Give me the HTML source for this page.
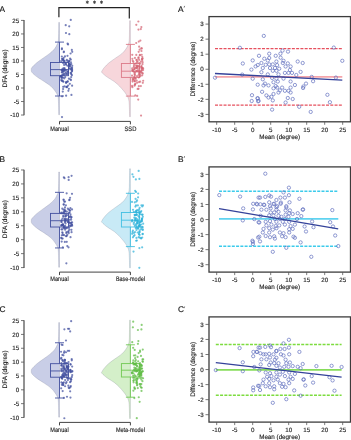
<!DOCTYPE html><html><head><meta charset="utf-8"><style>html,body{margin:0;padding:0;background:#fff;width:351px;height:440px;overflow:hidden}svg{display:block;will-change:transform}text{font-family:"Liberation Sans", sans-serif;fill:#1e1e1e;stroke:#1e1e1e;stroke-width:0.14px;text-rendering:geometricPrecision}</style></head><body>
<svg width="351" height="440" viewBox="0 0 351 440">
<text x="-0.4" y="11.80" font-size="8.3" style="fill:#111;stroke:#111;stroke-width:0.15px">A</text>
<text x="178.0" y="11.80" font-size="8.3" style="fill:#111;stroke:#111;stroke-width:0.15px">A</text>
<path d="M184.6,5.90 L184.1,7.60" stroke="#666" stroke-width="0.9"/>
<line x1="24" y1="20.12" x2="24" y2="115.33" stroke="#777" stroke-width="1.6"/>
<line x1="21" y1="115.03" x2="24" y2="115.03" stroke="#555" stroke-width="0.8"/>
<text x="19.2" y="117.23" font-size="6.2" text-anchor="end">-10</text>
<line x1="21" y1="101.52" x2="24" y2="101.52" stroke="#555" stroke-width="0.8"/>
<text x="19.2" y="103.72" font-size="6.2" text-anchor="end">-5</text>
<line x1="21" y1="88.00" x2="24" y2="88.00" stroke="#555" stroke-width="0.8"/>
<text x="19.2" y="90.20" font-size="6.2" text-anchor="end">0</text>
<line x1="21" y1="74.48" x2="24" y2="74.48" stroke="#555" stroke-width="0.8"/>
<text x="19.2" y="76.69" font-size="6.2" text-anchor="end">5</text>
<line x1="21" y1="60.97" x2="24" y2="60.97" stroke="#555" stroke-width="0.8"/>
<text x="19.2" y="63.17" font-size="6.2" text-anchor="end">10</text>
<line x1="21" y1="47.46" x2="24" y2="47.46" stroke="#555" stroke-width="0.8"/>
<text x="19.2" y="49.66" font-size="6.2" text-anchor="end">15</text>
<line x1="21" y1="33.94" x2="24" y2="33.94" stroke="#555" stroke-width="0.8"/>
<text x="19.2" y="36.14" font-size="6.2" text-anchor="end">20</text>
<line x1="21" y1="20.42" x2="24" y2="20.42" stroke="#555" stroke-width="0.8"/>
<text x="19.2" y="22.62" font-size="6.2" text-anchor="end">25</text>
<text transform="translate(7.3,68.40) rotate(-90)" font-size="6.5" text-anchor="middle" textLength="38.2" lengthAdjust="spacingAndGlyphs">DFA (degree)</text>
<path d="M59.5,124.40 V121.40 H130.4 V124.40" stroke="#444" stroke-width="1" fill="none"/>
<text x="59.5" y="130.70" font-size="6.5" text-anchor="middle" textLength="18.4" lengthAdjust="spacingAndGlyphs">Manual</text>
<text x="130.4" y="130.70" font-size="6.5" text-anchor="middle" textLength="12.0" lengthAdjust="spacingAndGlyphs">SSD</text>
<path d="M59.50,22.40 L58.70,22.40 C58.65,25.33 58.68,36.30 58.40,40.00 C58.12,43.70 57.67,43.08 57.00,44.60 C56.33,46.12 55.67,47.58 54.40,49.10 C53.13,50.62 51.30,52.18 49.40,53.70 C47.50,55.22 45.12,56.68 43.00,58.20 C40.88,59.72 38.52,61.28 36.70,62.80 C34.88,64.32 33.00,66.18 32.10,67.30 C31.20,68.42 31.30,68.62 31.30,69.50 C31.30,70.38 31.10,71.33 32.10,72.60 C33.10,73.87 35.23,75.58 37.30,77.10 C39.37,78.62 42.23,80.18 44.50,81.70 C46.77,83.22 49.17,84.68 50.90,86.20 C52.63,87.72 53.78,89.28 54.90,90.80 C56.02,92.32 57.02,93.77 57.60,95.30 C58.18,96.83 58.22,96.77 58.40,100.00 C58.58,103.23 58.65,112.25 58.70,114.70 L59.50,114.70 Z" fill="#c9cee7" stroke="#767a90" stroke-opacity="0.55" stroke-width="0.45"/>
<path d="M130.40,20.70 L129.60,20.70 C129.55,23.80 129.53,35.32 129.30,39.30 C129.07,43.28 128.77,42.97 128.20,44.60 C127.63,46.23 126.97,47.58 125.90,49.10 C124.83,50.62 123.55,52.18 121.80,53.70 C120.05,55.22 117.53,56.68 115.40,58.20 C113.27,59.72 110.82,61.28 109.00,62.80 C107.18,64.32 105.70,65.88 104.50,67.30 C103.30,68.72 102.20,70.38 101.80,71.30 C101.40,72.22 101.20,71.83 102.10,72.80 C103.00,73.77 105.13,75.62 107.20,77.10 C109.27,78.58 112.45,80.18 114.50,81.70 C116.55,83.22 117.98,84.68 119.50,86.20 C121.02,87.72 122.38,89.28 123.60,90.80 C124.82,92.32 125.90,93.55 126.80,95.30 C127.70,97.05 128.53,97.73 129.00,101.30 C129.47,104.87 129.50,114.13 129.60,116.70 L130.40,116.70 Z" fill="#f7d6db" stroke="#767a90" stroke-opacity="0.55" stroke-width="0.45"/>
<g stroke="#43509f" stroke-width="0.9" fill="none">
<rect x="50.50" y="62.50" width="18.00" height="13.20"/>
<line x1="50.50" y1="69.60" x2="68.50" y2="69.60"/>
<line x1="59.50" y1="42.10" x2="59.50" y2="62.50"/>
<line x1="59.50" y1="75.70" x2="59.50" y2="96.00"/>
<line x1="55.00" y1="42.10" x2="64.00" y2="42.10"/>
<line x1="55.00" y1="96.00" x2="64.00" y2="96.00"/>
</g>
<g stroke="#dc7a88" stroke-width="0.9" fill="none">
<rect x="121.40" y="63.50" width="18.00" height="13.90"/>
<line x1="121.40" y1="71.20" x2="139.40" y2="71.20"/>
<line x1="130.40" y1="44.40" x2="130.40" y2="63.50"/>
<line x1="130.40" y1="77.40" x2="130.40" y2="96.10"/>
<line x1="125.90" y1="44.40" x2="134.90" y2="44.40"/>
<line x1="125.90" y1="96.10" x2="134.90" y2="96.10"/>
</g>
<circle cx="66.11" cy="95.68" r="1.1" fill="#42509f" fill-opacity="0.72"/>
<circle cx="138.23" cy="99.54" r="1.1" fill="#d46473" fill-opacity="0.72"/>
<circle cx="71.44" cy="94.92" r="1.1" fill="#42509f" fill-opacity="0.72"/>
<circle cx="137.16" cy="95.95" r="1.1" fill="#d46473" fill-opacity="0.72"/>
<circle cx="66.74" cy="87.21" r="1.1" fill="#42509f" fill-opacity="0.72"/>
<circle cx="138.54" cy="88.79" r="1.1" fill="#d46473" fill-opacity="0.72"/>
<circle cx="63.09" cy="89.01" r="1.1" fill="#42509f" fill-opacity="0.72"/>
<circle cx="137.68" cy="88.94" r="1.1" fill="#d46473" fill-opacity="0.72"/>
<circle cx="68.12" cy="85.57" r="1.1" fill="#42509f" fill-opacity="0.72"/>
<circle cx="140.86" cy="86.08" r="1.1" fill="#d46473" fill-opacity="0.72"/>
<circle cx="62.06" cy="96.36" r="1.1" fill="#42509f" fill-opacity="0.72"/>
<circle cx="135.33" cy="95.40" r="1.1" fill="#d46473" fill-opacity="0.72"/>
<circle cx="62.02" cy="117.07" r="1.1" fill="#42509f" fill-opacity="0.72"/>
<circle cx="141.05" cy="115.55" r="1.1" fill="#d46473" fill-opacity="0.72"/>
<circle cx="68.84" cy="88.85" r="1.1" fill="#42509f" fill-opacity="0.72"/>
<circle cx="132.37" cy="87.15" r="1.1" fill="#d46473" fill-opacity="0.72"/>
<circle cx="72.10" cy="85.63" r="1.1" fill="#42509f" fill-opacity="0.72"/>
<circle cx="142.80" cy="82.86" r="1.1" fill="#d46473" fill-opacity="0.72"/>
<circle cx="68.39" cy="90.86" r="1.1" fill="#42509f" fill-opacity="0.72"/>
<circle cx="138.86" cy="86.20" r="1.1" fill="#d46473" fill-opacity="0.72"/>
<circle cx="62.78" cy="91.60" r="1.1" fill="#42509f" fill-opacity="0.72"/>
<circle cx="132.07" cy="85.90" r="1.1" fill="#d46473" fill-opacity="0.72"/>
<circle cx="66.97" cy="86.87" r="1.1" fill="#42509f" fill-opacity="0.72"/>
<circle cx="132.57" cy="81.62" r="1.1" fill="#d46473" fill-opacity="0.72"/>
<circle cx="63.15" cy="86.82" r="1.1" fill="#42509f" fill-opacity="0.72"/>
<circle cx="134.63" cy="81.07" r="1.1" fill="#d46473" fill-opacity="0.72"/>
<circle cx="61.34" cy="76.67" r="1.1" fill="#42509f" fill-opacity="0.72"/>
<circle cx="137.14" cy="82.66" r="1.1" fill="#d46473" fill-opacity="0.72"/>
<circle cx="65.98" cy="63.95" r="1.1" fill="#42509f" fill-opacity="0.72"/>
<circle cx="141.42" cy="67.30" r="1.1" fill="#d46473" fill-opacity="0.72"/>
<circle cx="66.87" cy="59.91" r="1.1" fill="#42509f" fill-opacity="0.72"/>
<circle cx="139.14" cy="63.08" r="1.1" fill="#d46473" fill-opacity="0.72"/>
<circle cx="66.65" cy="74.21" r="1.1" fill="#42509f" fill-opacity="0.72"/>
<circle cx="139.39" cy="77.01" r="1.1" fill="#d46473" fill-opacity="0.72"/>
<circle cx="66.17" cy="82.06" r="1.1" fill="#42509f" fill-opacity="0.72"/>
<circle cx="135.04" cy="84.48" r="1.1" fill="#d46473" fill-opacity="0.72"/>
<circle cx="72.27" cy="65.81" r="1.1" fill="#42509f" fill-opacity="0.72"/>
<circle cx="143.15" cy="68.60" r="1.1" fill="#d46473" fill-opacity="0.72"/>
<circle cx="70.49" cy="69.52" r="1.1" fill="#42509f" fill-opacity="0.72"/>
<circle cx="139.90" cy="71.94" r="1.1" fill="#d46473" fill-opacity="0.72"/>
<circle cx="64.56" cy="74.60" r="1.1" fill="#42509f" fill-opacity="0.72"/>
<circle cx="134.50" cy="76.62" r="1.1" fill="#d46473" fill-opacity="0.72"/>
<circle cx="64.27" cy="78.34" r="1.1" fill="#42509f" fill-opacity="0.72"/>
<circle cx="132.69" cy="80.24" r="1.1" fill="#d46473" fill-opacity="0.72"/>
<circle cx="69.66" cy="66.01" r="1.1" fill="#42509f" fill-opacity="0.72"/>
<circle cx="136.42" cy="68.09" r="1.1" fill="#d46473" fill-opacity="0.72"/>
<circle cx="70.57" cy="53.52" r="1.1" fill="#42509f" fill-opacity="0.72"/>
<circle cx="136.27" cy="54.91" r="1.1" fill="#d46473" fill-opacity="0.72"/>
<circle cx="71.83" cy="49.90" r="1.1" fill="#42509f" fill-opacity="0.72"/>
<circle cx="141.47" cy="51.02" r="1.1" fill="#d46473" fill-opacity="0.72"/>
<circle cx="61.01" cy="75.88" r="1.1" fill="#42509f" fill-opacity="0.72"/>
<circle cx="134.27" cy="77.45" r="1.1" fill="#d46473" fill-opacity="0.72"/>
<circle cx="71.29" cy="64.12" r="1.1" fill="#42509f" fill-opacity="0.72"/>
<circle cx="137.21" cy="65.63" r="1.1" fill="#d46473" fill-opacity="0.72"/>
<circle cx="72.08" cy="69.51" r="1.1" fill="#42509f" fill-opacity="0.72"/>
<circle cx="136.39" cy="70.90" r="1.1" fill="#d46473" fill-opacity="0.72"/>
<circle cx="61.83" cy="80.91" r="1.1" fill="#42509f" fill-opacity="0.72"/>
<circle cx="139.01" cy="82.03" r="1.1" fill="#d46473" fill-opacity="0.72"/>
<circle cx="69.80" cy="83.79" r="1.1" fill="#42509f" fill-opacity="0.72"/>
<circle cx="134.95" cy="84.55" r="1.1" fill="#d46473" fill-opacity="0.72"/>
<circle cx="61.98" cy="77.84" r="1.1" fill="#42509f" fill-opacity="0.72"/>
<circle cx="135.66" cy="78.64" r="1.1" fill="#d46473" fill-opacity="0.72"/>
<circle cx="71.89" cy="75.18" r="1.1" fill="#42509f" fill-opacity="0.72"/>
<circle cx="140.47" cy="76.05" r="1.1" fill="#d46473" fill-opacity="0.72"/>
<circle cx="62.33" cy="72.47" r="1.1" fill="#42509f" fill-opacity="0.72"/>
<circle cx="134.68" cy="73.34" r="1.1" fill="#d46473" fill-opacity="0.72"/>
<circle cx="62.14" cy="69.31" r="1.1" fill="#42509f" fill-opacity="0.72"/>
<circle cx="132.58" cy="70.05" r="1.1" fill="#d46473" fill-opacity="0.72"/>
<circle cx="70.01" cy="64.84" r="1.1" fill="#42509f" fill-opacity="0.72"/>
<circle cx="133.91" cy="65.96" r="1.1" fill="#d46473" fill-opacity="0.72"/>
<circle cx="67.32" cy="61.12" r="1.1" fill="#42509f" fill-opacity="0.72"/>
<circle cx="136.96" cy="62.17" r="1.1" fill="#d46473" fill-opacity="0.72"/>
<circle cx="63.15" cy="63.05" r="1.1" fill="#42509f" fill-opacity="0.72"/>
<circle cx="140.17" cy="63.54" r="1.1" fill="#d46473" fill-opacity="0.72"/>
<circle cx="62.48" cy="59.30" r="1.1" fill="#42509f" fill-opacity="0.72"/>
<circle cx="139.17" cy="59.79" r="1.1" fill="#d46473" fill-opacity="0.72"/>
<circle cx="62.32" cy="80.30" r="1.1" fill="#42509f" fill-opacity="0.72"/>
<circle cx="136.65" cy="80.53" r="1.1" fill="#d46473" fill-opacity="0.72"/>
<circle cx="63.41" cy="74.90" r="1.1" fill="#42509f" fill-opacity="0.72"/>
<circle cx="134.95" cy="75.12" r="1.1" fill="#d46473" fill-opacity="0.72"/>
<circle cx="71.97" cy="71.14" r="1.1" fill="#42509f" fill-opacity="0.72"/>
<circle cx="140.98" cy="71.37" r="1.1" fill="#d46473" fill-opacity="0.72"/>
<circle cx="64.44" cy="68.05" r="1.1" fill="#42509f" fill-opacity="0.72"/>
<circle cx="141.90" cy="68.15" r="1.1" fill="#d46473" fill-opacity="0.72"/>
<circle cx="63.38" cy="60.14" r="1.1" fill="#42509f" fill-opacity="0.72"/>
<circle cx="136.36" cy="60.00" r="1.1" fill="#d46473" fill-opacity="0.72"/>
<circle cx="70.65" cy="73.05" r="1.1" fill="#42509f" fill-opacity="0.72"/>
<circle cx="139.15" cy="72.77" r="1.1" fill="#d46473" fill-opacity="0.72"/>
<circle cx="62.13" cy="70.34" r="1.1" fill="#42509f" fill-opacity="0.72"/>
<circle cx="143.08" cy="70.07" r="1.1" fill="#d46473" fill-opacity="0.72"/>
<circle cx="63.41" cy="81.73" r="1.1" fill="#42509f" fill-opacity="0.72"/>
<circle cx="134.82" cy="81.20" r="1.1" fill="#d46473" fill-opacity="0.72"/>
<circle cx="69.73" cy="64.15" r="1.1" fill="#42509f" fill-opacity="0.72"/>
<circle cx="135.62" cy="63.50" r="1.1" fill="#d46473" fill-opacity="0.72"/>
<circle cx="64.35" cy="61.45" r="1.1" fill="#42509f" fill-opacity="0.72"/>
<circle cx="132.73" cy="60.79" r="1.1" fill="#d46473" fill-opacity="0.72"/>
<circle cx="62.02" cy="58.82" r="1.1" fill="#42509f" fill-opacity="0.72"/>
<circle cx="138.48" cy="58.16" r="1.1" fill="#d46473" fill-opacity="0.72"/>
<circle cx="63.75" cy="52.27" r="1.1" fill="#42509f" fill-opacity="0.72"/>
<circle cx="138.69" cy="51.80" r="1.1" fill="#d46473" fill-opacity="0.72"/>
<circle cx="65.20" cy="77.12" r="1.1" fill="#42509f" fill-opacity="0.72"/>
<circle cx="137.02" cy="76.20" r="1.1" fill="#d46473" fill-opacity="0.72"/>
<circle cx="71.84" cy="69.09" r="1.1" fill="#42509f" fill-opacity="0.72"/>
<circle cx="137.37" cy="68.17" r="1.1" fill="#d46473" fill-opacity="0.72"/>
<circle cx="67.49" cy="55.78" r="1.1" fill="#42509f" fill-opacity="0.72"/>
<circle cx="141.69" cy="54.75" r="1.1" fill="#d46473" fill-opacity="0.72"/>
<circle cx="63.07" cy="81.32" r="1.1" fill="#42509f" fill-opacity="0.72"/>
<circle cx="133.64" cy="79.51" r="1.1" fill="#d46473" fill-opacity="0.72"/>
<circle cx="71.27" cy="74.21" r="1.1" fill="#42509f" fill-opacity="0.72"/>
<circle cx="141.14" cy="72.66" r="1.1" fill="#d46473" fill-opacity="0.72"/>
<circle cx="63.82" cy="71.04" r="1.1" fill="#42509f" fill-opacity="0.72"/>
<circle cx="134.04" cy="69.37" r="1.1" fill="#d46473" fill-opacity="0.72"/>
<circle cx="69.36" cy="65.71" r="1.1" fill="#42509f" fill-opacity="0.72"/>
<circle cx="142.53" cy="64.03" r="1.1" fill="#d46473" fill-opacity="0.72"/>
<circle cx="63.22" cy="60.64" r="1.1" fill="#42509f" fill-opacity="0.72"/>
<circle cx="142.64" cy="58.44" r="1.1" fill="#d46473" fill-opacity="0.72"/>
<circle cx="70.97" cy="80.05" r="1.1" fill="#42509f" fill-opacity="0.72"/>
<circle cx="138.72" cy="77.48" r="1.1" fill="#d46473" fill-opacity="0.72"/>
<circle cx="65.76" cy="73.55" r="1.1" fill="#42509f" fill-opacity="0.72"/>
<circle cx="133.07" cy="71.22" r="1.1" fill="#d46473" fill-opacity="0.72"/>
<circle cx="61.44" cy="70.25" r="1.1" fill="#42509f" fill-opacity="0.72"/>
<circle cx="142.78" cy="68.05" r="1.1" fill="#d46473" fill-opacity="0.72"/>
<circle cx="63.69" cy="57.73" r="1.1" fill="#42509f" fill-opacity="0.72"/>
<circle cx="139.86" cy="54.90" r="1.1" fill="#d46473" fill-opacity="0.72"/>
<circle cx="63.90" cy="51.48" r="1.1" fill="#42509f" fill-opacity="0.72"/>
<circle cx="141.21" cy="48.38" r="1.1" fill="#d46473" fill-opacity="0.72"/>
<circle cx="67.74" cy="81.34" r="1.1" fill="#42509f" fill-opacity="0.72"/>
<circle cx="135.22" cy="78.44" r="1.1" fill="#d46473" fill-opacity="0.72"/>
<circle cx="62.98" cy="77.59" r="1.1" fill="#42509f" fill-opacity="0.72"/>
<circle cx="140.04" cy="74.69" r="1.1" fill="#d46473" fill-opacity="0.72"/>
<circle cx="61.78" cy="72.24" r="1.1" fill="#42509f" fill-opacity="0.72"/>
<circle cx="134.48" cy="69.22" r="1.1" fill="#d46473" fill-opacity="0.72"/>
<circle cx="67.32" cy="74.09" r="1.1" fill="#42509f" fill-opacity="0.72"/>
<circle cx="141.53" cy="70.67" r="1.1" fill="#d46473" fill-opacity="0.72"/>
<circle cx="67.94" cy="71.33" r="1.1" fill="#42509f" fill-opacity="0.72"/>
<circle cx="135.07" cy="68.03" r="1.1" fill="#d46473" fill-opacity="0.72"/>
<circle cx="71.37" cy="67.57" r="1.1" fill="#42509f" fill-opacity="0.72"/>
<circle cx="134.20" cy="64.28" r="1.1" fill="#d46473" fill-opacity="0.72"/>
<circle cx="61.19" cy="61.19" r="1.1" fill="#42509f" fill-opacity="0.72"/>
<circle cx="134.94" cy="57.90" r="1.1" fill="#d46473" fill-opacity="0.72"/>
<circle cx="66.04" cy="82.97" r="1.1" fill="#42509f" fill-opacity="0.72"/>
<circle cx="132.58" cy="78.92" r="1.1" fill="#d46473" fill-opacity="0.72"/>
<circle cx="62.99" cy="69.48" r="1.1" fill="#42509f" fill-opacity="0.72"/>
<circle cx="136.07" cy="65.68" r="1.1" fill="#d46473" fill-opacity="0.72"/>
<circle cx="67.47" cy="65.76" r="1.1" fill="#42509f" fill-opacity="0.72"/>
<circle cx="133.39" cy="61.89" r="1.1" fill="#d46473" fill-opacity="0.72"/>
<circle cx="65.09" cy="63.06" r="1.1" fill="#42509f" fill-opacity="0.72"/>
<circle cx="141.97" cy="59.18" r="1.1" fill="#d46473" fill-opacity="0.72"/>
<circle cx="72.08" cy="70.72" r="1.1" fill="#42509f" fill-opacity="0.72"/>
<circle cx="139.32" cy="66.54" r="1.1" fill="#d46473" fill-opacity="0.72"/>
<circle cx="68.81" cy="61.63" r="1.1" fill="#42509f" fill-opacity="0.72"/>
<circle cx="138.50" cy="57.46" r="1.1" fill="#d46473" fill-opacity="0.72"/>
<circle cx="62.59" cy="74.61" r="1.1" fill="#42509f" fill-opacity="0.72"/>
<circle cx="132.30" cy="70.16" r="1.1" fill="#d46473" fill-opacity="0.72"/>
<circle cx="61.20" cy="80.06" r="1.1" fill="#42509f" fill-opacity="0.72"/>
<circle cx="142.19" cy="75.37" r="1.1" fill="#d46473" fill-opacity="0.72"/>
<circle cx="68.92" cy="78.67" r="1.1" fill="#42509f" fill-opacity="0.72"/>
<circle cx="142.78" cy="73.60" r="1.1" fill="#d46473" fill-opacity="0.72"/>
<circle cx="61.24" cy="76.43" r="1.1" fill="#42509f" fill-opacity="0.72"/>
<circle cx="139.09" cy="71.49" r="1.1" fill="#d46473" fill-opacity="0.72"/>
<circle cx="66.45" cy="86.92" r="1.1" fill="#42509f" fill-opacity="0.72"/>
<circle cx="140.15" cy="81.72" r="1.1" fill="#d46473" fill-opacity="0.72"/>
<circle cx="64.60" cy="86.40" r="1.1" fill="#42509f" fill-opacity="0.72"/>
<circle cx="143.19" cy="80.74" r="1.1" fill="#d46473" fill-opacity="0.72"/>
<circle cx="61.85" cy="75.71" r="1.1" fill="#42509f" fill-opacity="0.72"/>
<circle cx="138.07" cy="70.11" r="1.1" fill="#d46473" fill-opacity="0.72"/>
<circle cx="69.33" cy="64.23" r="1.1" fill="#42509f" fill-opacity="0.72"/>
<circle cx="142.07" cy="59.06" r="1.1" fill="#d46473" fill-opacity="0.72"/>
<circle cx="69.33" cy="60.64" r="1.1" fill="#42509f" fill-opacity="0.72"/>
<circle cx="139.85" cy="55.30" r="1.1" fill="#d46473" fill-opacity="0.72"/>
<circle cx="69.96" cy="66.28" r="1.1" fill="#42509f" fill-opacity="0.72"/>
<circle cx="142.24" cy="60.31" r="1.1" fill="#d46473" fill-opacity="0.72"/>
<circle cx="64.98" cy="56.46" r="1.1" fill="#42509f" fill-opacity="0.72"/>
<circle cx="139.64" cy="49.71" r="1.1" fill="#d46473" fill-opacity="0.72"/>
<circle cx="71.18" cy="77.06" r="1.1" fill="#42509f" fill-opacity="0.72"/>
<circle cx="141.74" cy="69.81" r="1.1" fill="#d46473" fill-opacity="0.72"/>
<circle cx="65.71" cy="25.16" r="1.1" fill="#42509f" fill-opacity="0.72"/>
<circle cx="140.83" cy="29.05" r="1.1" fill="#d46473" fill-opacity="0.72"/>
<circle cx="70.76" cy="19.97" r="1.1" fill="#42509f" fill-opacity="0.72"/>
<circle cx="138.37" cy="21.48" r="1.1" fill="#d46473" fill-opacity="0.72"/>
<circle cx="68.06" cy="44.39" r="1.1" fill="#42509f" fill-opacity="0.72"/>
<circle cx="136.22" cy="43.01" r="1.1" fill="#d46473" fill-opacity="0.72"/>
<circle cx="67.58" cy="43.72" r="1.1" fill="#42509f" fill-opacity="0.72"/>
<circle cx="138.78" cy="41.58" r="1.1" fill="#d46473" fill-opacity="0.72"/>
<circle cx="61.91" cy="49.27" r="1.1" fill="#42509f" fill-opacity="0.72"/>
<circle cx="139.13" cy="46.69" r="1.1" fill="#d46473" fill-opacity="0.72"/>
<circle cx="72.22" cy="51.84" r="1.1" fill="#42509f" fill-opacity="0.72"/>
<circle cx="141.84" cy="48.47" r="1.1" fill="#d46473" fill-opacity="0.72"/>
<circle cx="69.23" cy="26.28" r="1.1" fill="#42509f" fill-opacity="0.72"/>
<circle cx="136.29" cy="24.78" r="1.1" fill="#d46473" fill-opacity="0.72"/>
<circle cx="69.31" cy="34.21" r="1.1" fill="#42509f" fill-opacity="0.72"/>
<circle cx="138.46" cy="29.62" r="1.1" fill="#d46473" fill-opacity="0.72"/>
<circle cx="65.98" cy="32.99" r="1.1" fill="#42509f" fill-opacity="0.72"/>
<circle cx="141.37" cy="27.08" r="1.1" fill="#d46473" fill-opacity="0.72"/>
<circle cx="61.95" cy="48.28" r="1.1" fill="#42509f" fill-opacity="0.72"/>
<circle cx="140.38" cy="40.62" r="1.1" fill="#d46473" fill-opacity="0.72"/>
<circle cx="61.34" cy="77.85" r="1.1" fill="#42509f" fill-opacity="0.72"/>
<circle cx="138.69" cy="74.91" r="1.1" fill="#d46473" fill-opacity="0.72"/>
<circle cx="66.43" cy="82.25" r="1.1" fill="#42509f" fill-opacity="0.72"/>
<circle cx="134.50" cy="85.68" r="1.1" fill="#d46473" fill-opacity="0.72"/>
<circle cx="68.89" cy="63.34" r="1.1" fill="#42509f" fill-opacity="0.72"/>
<circle cx="137.52" cy="61.47" r="1.1" fill="#d46473" fill-opacity="0.72"/>
<circle cx="67.94" cy="71.70" r="1.1" fill="#42509f" fill-opacity="0.72"/>
<circle cx="142.30" cy="72.81" r="1.1" fill="#d46473" fill-opacity="0.72"/>
<circle cx="63.89" cy="73.38" r="1.1" fill="#42509f" fill-opacity="0.72"/>
<circle cx="132.03" cy="75.65" r="1.1" fill="#d46473" fill-opacity="0.72"/>
<circle cx="64.40" cy="70.41" r="1.1" fill="#42509f" fill-opacity="0.72"/>
<circle cx="139.56" cy="71.44" r="1.1" fill="#d46473" fill-opacity="0.72"/>
<circle cx="63.29" cy="68.29" r="1.1" fill="#42509f" fill-opacity="0.72"/>
<circle cx="133.82" cy="71.74" r="1.1" fill="#d46473" fill-opacity="0.72"/>
<circle cx="71.23" cy="72.53" r="1.1" fill="#42509f" fill-opacity="0.72"/>
<circle cx="139.36" cy="73.64" r="1.1" fill="#d46473" fill-opacity="0.72"/>
<circle cx="65.99" cy="72.27" r="1.1" fill="#42509f" fill-opacity="0.72"/>
<circle cx="141.98" cy="68.42" r="1.1" fill="#d46473" fill-opacity="0.72"/>
<circle cx="64.69" cy="69.21" r="1.1" fill="#42509f" fill-opacity="0.72"/>
<circle cx="139.42" cy="68.40" r="1.1" fill="#d46473" fill-opacity="0.72"/>
<circle cx="63.24" cy="59.08" r="1.1" fill="#42509f" fill-opacity="0.72"/>
<circle cx="136.77" cy="59.73" r="1.1" fill="#d46473" fill-opacity="0.72"/>
<circle cx="70.11" cy="58.61" r="1.1" fill="#42509f" fill-opacity="0.72"/>
<circle cx="142.23" cy="56.84" r="1.1" fill="#d46473" fill-opacity="0.72"/>
<circle cx="70.95" cy="62.31" r="1.1" fill="#42509f" fill-opacity="0.72"/>
<circle cx="136.24" cy="67.55" r="1.1" fill="#d46473" fill-opacity="0.72"/>
<circle cx="67.59" cy="81.67" r="1.1" fill="#42509f" fill-opacity="0.72"/>
<circle cx="135.48" cy="83.59" r="1.1" fill="#d46473" fill-opacity="0.72"/>
<circle cx="62.54" cy="70.97" r="1.1" fill="#42509f" fill-opacity="0.72"/>
<circle cx="137.51" cy="71.35" r="1.1" fill="#d46473" fill-opacity="0.72"/>
<circle cx="70.46" cy="68.75" r="1.1" fill="#42509f" fill-opacity="0.72"/>
<circle cx="141.49" cy="65.96" r="1.1" fill="#d46473" fill-opacity="0.72"/>
<circle cx="69.04" cy="61.43" r="1.1" fill="#42509f" fill-opacity="0.72"/>
<circle cx="142.64" cy="62.22" r="1.1" fill="#d46473" fill-opacity="0.72"/>
<circle cx="64.13" cy="64.88" r="1.1" fill="#42509f" fill-opacity="0.72"/>
<circle cx="133.81" cy="67.34" r="1.1" fill="#d46473" fill-opacity="0.72"/>
<circle cx="66.09" cy="70.41" r="1.1" fill="#42509f" fill-opacity="0.72"/>
<circle cx="135.01" cy="72.26" r="1.1" fill="#d46473" fill-opacity="0.72"/>
<circle cx="63.42" cy="71.05" r="1.1" fill="#42509f" fill-opacity="0.72"/>
<circle cx="136.58" cy="71.45" r="1.1" fill="#d46473" fill-opacity="0.72"/>
<circle cx="68.07" cy="72.76" r="1.1" fill="#42509f" fill-opacity="0.72"/>
<circle cx="137.48" cy="66.80" r="1.1" fill="#d46473" fill-opacity="0.72"/>
<circle cx="64.56" cy="69.96" r="1.1" fill="#42509f" fill-opacity="0.72"/>
<circle cx="141.38" cy="66.95" r="1.1" fill="#d46473" fill-opacity="0.72"/>
<circle cx="72.10" cy="67.92" r="1.1" fill="#42509f" fill-opacity="0.72"/>
<circle cx="137.01" cy="66.25" r="1.1" fill="#d46473" fill-opacity="0.72"/>
<circle cx="61.84" cy="56.50" r="1.1" fill="#42509f" fill-opacity="0.72"/>
<circle cx="132.26" cy="54.83" r="1.1" fill="#d46473" fill-opacity="0.72"/>
<circle cx="70.86" cy="59.61" r="1.1" fill="#42509f" fill-opacity="0.72"/>
<circle cx="132.37" cy="58.81" r="1.1" fill="#d46473" fill-opacity="0.72"/>
<circle cx="69.01" cy="68.19" r="1.1" fill="#42509f" fill-opacity="0.72"/>
<circle cx="138.35" cy="65.86" r="1.1" fill="#d46473" fill-opacity="0.72"/>
<circle cx="64.49" cy="60.94" r="1.1" fill="#42509f" fill-opacity="0.72"/>
<circle cx="140.84" cy="61.69" r="1.1" fill="#d46473" fill-opacity="0.72"/>
<circle cx="61.22" cy="76.05" r="1.1" fill="#42509f" fill-opacity="0.72"/>
<circle cx="133.44" cy="78.97" r="1.1" fill="#d46473" fill-opacity="0.72"/>
<circle cx="66.14" cy="64.67" r="1.1" fill="#42509f" fill-opacity="0.72"/>
<circle cx="132.18" cy="68.26" r="1.1" fill="#d46473" fill-opacity="0.72"/>
<circle cx="70.38" cy="79.35" r="1.1" fill="#42509f" fill-opacity="0.72"/>
<circle cx="134.58" cy="74.27" r="1.1" fill="#d46473" fill-opacity="0.72"/>
<rect x="209.00" y="16.60" width="141.50" height="105.20" fill="none" stroke="#3c3c3c" stroke-width="1.3"/>
<line x1="205.5" y1="114.40" x2="209.00" y2="114.40" stroke="#555" stroke-width="0.8"/>
<text x="203.6" y="116.60" font-size="6.2" text-anchor="end">-3</text>
<line x1="205.5" y1="99.35" x2="209.00" y2="99.35" stroke="#555" stroke-width="0.8"/>
<text x="203.6" y="101.55" font-size="6.2" text-anchor="end">-2</text>
<line x1="205.5" y1="84.30" x2="209.00" y2="84.30" stroke="#555" stroke-width="0.8"/>
<text x="203.6" y="86.50" font-size="6.2" text-anchor="end">-1</text>
<line x1="205.5" y1="69.25" x2="209.00" y2="69.25" stroke="#555" stroke-width="0.8"/>
<text x="203.6" y="71.45" font-size="6.2" text-anchor="end">0</text>
<line x1="205.5" y1="54.20" x2="209.00" y2="54.20" stroke="#555" stroke-width="0.8"/>
<text x="203.6" y="56.40" font-size="6.2" text-anchor="end">1</text>
<line x1="205.5" y1="39.15" x2="209.00" y2="39.15" stroke="#555" stroke-width="0.8"/>
<text x="203.6" y="41.35" font-size="6.2" text-anchor="end">2</text>
<line x1="205.5" y1="24.10" x2="209.00" y2="24.10" stroke="#555" stroke-width="0.8"/>
<text x="203.6" y="26.30" font-size="6.2" text-anchor="end">3</text>
<line x1="216.70" y1="121.80" x2="216.70" y2="124.80" stroke="#555" stroke-width="0.8"/>
<text x="216.70" y="131.50" font-size="6.2" text-anchor="middle">-10</text>
<line x1="234.70" y1="121.80" x2="234.70" y2="124.80" stroke="#555" stroke-width="0.8"/>
<text x="234.70" y="131.50" font-size="6.2" text-anchor="middle">-5</text>
<line x1="252.70" y1="121.80" x2="252.70" y2="124.80" stroke="#555" stroke-width="0.8"/>
<text x="252.70" y="131.50" font-size="6.2" text-anchor="middle">0</text>
<line x1="270.70" y1="121.80" x2="270.70" y2="124.80" stroke="#555" stroke-width="0.8"/>
<text x="270.70" y="131.50" font-size="6.2" text-anchor="middle">5</text>
<line x1="288.70" y1="121.80" x2="288.70" y2="124.80" stroke="#555" stroke-width="0.8"/>
<text x="288.70" y="131.50" font-size="6.2" text-anchor="middle">10</text>
<line x1="306.70" y1="121.80" x2="306.70" y2="124.80" stroke="#555" stroke-width="0.8"/>
<text x="306.70" y="131.50" font-size="6.2" text-anchor="middle">15</text>
<line x1="324.70" y1="121.80" x2="324.70" y2="124.80" stroke="#555" stroke-width="0.8"/>
<text x="324.70" y="131.50" font-size="6.2" text-anchor="middle">20</text>
<line x1="342.70" y1="121.80" x2="342.70" y2="124.80" stroke="#555" stroke-width="0.8"/>
<text x="342.70" y="131.50" font-size="6.2" text-anchor="middle">25</text>
<text x="279.7" y="139.00" font-size="6.5" text-anchor="middle" textLength="41" lengthAdjust="spacingAndGlyphs">Mean (degree)</text>
<text transform="translate(195.3,69.00) rotate(-90)" font-size="6.5" text-anchor="middle" textLength="55" lengthAdjust="spacingAndGlyphs">Difference (degree)</text>
<line x1="215.00" y1="48.60" x2="342.30" y2="48.60" stroke="#e6505e" stroke-width="1.4" stroke-dasharray="3,1.27"/>
<line x1="215.00" y1="105.15" x2="342.30" y2="105.15" stroke="#e6505e" stroke-width="1.4" stroke-dasharray="3,1.27"/>
<line x1="215.00" y1="76.90" x2="342.30" y2="76.90" stroke="#f5a5aa" stroke-width="1.8"/>
<circle cx="239.90" cy="47.80" r="1.65" fill="none" stroke="#6170bf" stroke-width="0.7"/>
<circle cx="242.80" cy="63.50" r="1.65" fill="none" stroke="#6170bf" stroke-width="0.7"/>
<circle cx="252.70" cy="60.40" r="1.65" fill="none" stroke="#6170bf" stroke-width="0.7"/>
<circle cx="251.40" cy="69.60" r="1.65" fill="none" stroke="#6170bf" stroke-width="0.7"/>
<circle cx="255.60" cy="66.40" r="1.65" fill="none" stroke="#6170bf" stroke-width="0.7"/>
<circle cx="242.20" cy="74.60" r="1.65" fill="none" stroke="#6170bf" stroke-width="0.7"/>
<circle cx="215.00" cy="77.70" r="1.65" fill="none" stroke="#6170bf" stroke-width="0.7"/>
<circle cx="252.70" cy="78.70" r="1.65" fill="none" stroke="#6170bf" stroke-width="0.7"/>
<circle cx="257.70" cy="84.70" r="1.65" fill="none" stroke="#6170bf" stroke-width="0.7"/>
<circle cx="252.00" cy="95.20" r="1.65" fill="none" stroke="#6170bf" stroke-width="0.7"/>
<circle cx="251.70" cy="101.00" r="1.65" fill="none" stroke="#6170bf" stroke-width="0.7"/>
<circle cx="257.70" cy="98.50" r="1.65" fill="none" stroke="#6170bf" stroke-width="0.7"/>
<circle cx="258.10" cy="101.30" r="1.65" fill="none" stroke="#6170bf" stroke-width="0.7"/>
<circle cx="263.80" cy="35.90" r="1.65" fill="none" stroke="#6170bf" stroke-width="0.7"/>
<circle cx="282.50" cy="50.60" r="1.65" fill="none" stroke="#6170bf" stroke-width="0.7"/>
<circle cx="288.00" cy="51.60" r="1.65" fill="none" stroke="#6170bf" stroke-width="0.7"/>
<circle cx="269.20" cy="53.70" r="1.65" fill="none" stroke="#6170bf" stroke-width="0.7"/>
<circle cx="259.00" cy="55.80" r="1.65" fill="none" stroke="#6170bf" stroke-width="0.7"/>
<circle cx="280.40" cy="53.70" r="1.65" fill="none" stroke="#6170bf" stroke-width="0.7"/>
<circle cx="275.70" cy="55.80" r="1.65" fill="none" stroke="#6170bf" stroke-width="0.7"/>
<circle cx="269.20" cy="58.00" r="1.65" fill="none" stroke="#6170bf" stroke-width="0.7"/>
<circle cx="264.30" cy="58.70" r="1.65" fill="none" stroke="#6170bf" stroke-width="0.7"/>
<circle cx="280.60" cy="57.70" r="1.65" fill="none" stroke="#6170bf" stroke-width="0.7"/>
<circle cx="297.70" cy="61.50" r="1.65" fill="none" stroke="#6170bf" stroke-width="0.7"/>
<circle cx="302.70" cy="63.00" r="1.65" fill="none" stroke="#6170bf" stroke-width="0.7"/>
<circle cx="267.80" cy="60.50" r="1.65" fill="none" stroke="#6170bf" stroke-width="0.7"/>
<circle cx="283.50" cy="60.80" r="1.65" fill="none" stroke="#6170bf" stroke-width="0.7"/>
<circle cx="276.40" cy="61.50" r="1.65" fill="none" stroke="#6170bf" stroke-width="0.7"/>
<circle cx="261.40" cy="63.00" r="1.65" fill="none" stroke="#6170bf" stroke-width="0.7"/>
<circle cx="257.80" cy="65.00" r="1.65" fill="none" stroke="#6170bf" stroke-width="0.7"/>
<circle cx="265.70" cy="64.80" r="1.65" fill="none" stroke="#6170bf" stroke-width="0.7"/>
<circle cx="269.20" cy="64.40" r="1.65" fill="none" stroke="#6170bf" stroke-width="0.7"/>
<circle cx="272.80" cy="64.40" r="1.65" fill="none" stroke="#6170bf" stroke-width="0.7"/>
<circle cx="277.10" cy="65.10" r="1.65" fill="none" stroke="#6170bf" stroke-width="0.7"/>
<circle cx="282.80" cy="63.00" r="1.65" fill="none" stroke="#6170bf" stroke-width="0.7"/>
<circle cx="287.80" cy="63.40" r="1.65" fill="none" stroke="#6170bf" stroke-width="0.7"/>
<circle cx="285.60" cy="66.50" r="1.65" fill="none" stroke="#6170bf" stroke-width="0.7"/>
<circle cx="290.60" cy="66.50" r="1.65" fill="none" stroke="#6170bf" stroke-width="0.7"/>
<circle cx="262.80" cy="68.00" r="1.65" fill="none" stroke="#6170bf" stroke-width="0.7"/>
<circle cx="270.00" cy="68.00" r="1.65" fill="none" stroke="#6170bf" stroke-width="0.7"/>
<circle cx="275.00" cy="68.00" r="1.65" fill="none" stroke="#6170bf" stroke-width="0.7"/>
<circle cx="279.20" cy="68.70" r="1.65" fill="none" stroke="#6170bf" stroke-width="0.7"/>
<circle cx="289.90" cy="70.00" r="1.65" fill="none" stroke="#6170bf" stroke-width="0.7"/>
<circle cx="272.80" cy="70.80" r="1.65" fill="none" stroke="#6170bf" stroke-width="0.7"/>
<circle cx="276.40" cy="70.80" r="1.65" fill="none" stroke="#6170bf" stroke-width="0.7"/>
<circle cx="261.40" cy="72.20" r="1.65" fill="none" stroke="#6170bf" stroke-width="0.7"/>
<circle cx="284.90" cy="72.90" r="1.65" fill="none" stroke="#6170bf" stroke-width="0.7"/>
<circle cx="288.50" cy="72.90" r="1.65" fill="none" stroke="#6170bf" stroke-width="0.7"/>
<circle cx="292.00" cy="72.90" r="1.65" fill="none" stroke="#6170bf" stroke-width="0.7"/>
<circle cx="300.60" cy="71.90" r="1.65" fill="none" stroke="#6170bf" stroke-width="0.7"/>
<circle cx="267.80" cy="74.40" r="1.65" fill="none" stroke="#6170bf" stroke-width="0.7"/>
<circle cx="278.50" cy="74.40" r="1.65" fill="none" stroke="#6170bf" stroke-width="0.7"/>
<circle cx="296.30" cy="75.00" r="1.65" fill="none" stroke="#6170bf" stroke-width="0.7"/>
<circle cx="262.80" cy="79.30" r="1.65" fill="none" stroke="#6170bf" stroke-width="0.7"/>
<circle cx="272.10" cy="77.90" r="1.65" fill="none" stroke="#6170bf" stroke-width="0.7"/>
<circle cx="276.40" cy="78.60" r="1.65" fill="none" stroke="#6170bf" stroke-width="0.7"/>
<circle cx="283.50" cy="78.60" r="1.65" fill="none" stroke="#6170bf" stroke-width="0.7"/>
<circle cx="290.60" cy="81.50" r="1.65" fill="none" stroke="#6170bf" stroke-width="0.7"/>
<circle cx="265.00" cy="83.60" r="1.65" fill="none" stroke="#6170bf" stroke-width="0.7"/>
<circle cx="273.50" cy="82.20" r="1.65" fill="none" stroke="#6170bf" stroke-width="0.7"/>
<circle cx="277.80" cy="81.50" r="1.65" fill="none" stroke="#6170bf" stroke-width="0.7"/>
<circle cx="294.90" cy="85.00" r="1.65" fill="none" stroke="#6170bf" stroke-width="0.7"/>
<circle cx="303.40" cy="86.50" r="1.65" fill="none" stroke="#6170bf" stroke-width="0.7"/>
<circle cx="263.50" cy="85.40" r="1.65" fill="none" stroke="#6170bf" stroke-width="0.7"/>
<circle cx="268.50" cy="85.40" r="1.65" fill="none" stroke="#6170bf" stroke-width="0.7"/>
<circle cx="275.70" cy="86.10" r="1.65" fill="none" stroke="#6170bf" stroke-width="0.7"/>
<circle cx="273.50" cy="88.30" r="1.65" fill="none" stroke="#6170bf" stroke-width="0.7"/>
<circle cx="277.10" cy="87.60" r="1.65" fill="none" stroke="#6170bf" stroke-width="0.7"/>
<circle cx="282.10" cy="87.60" r="1.65" fill="none" stroke="#6170bf" stroke-width="0.7"/>
<circle cx="290.60" cy="87.60" r="1.65" fill="none" stroke="#6170bf" stroke-width="0.7"/>
<circle cx="262.10" cy="91.80" r="1.65" fill="none" stroke="#6170bf" stroke-width="0.7"/>
<circle cx="279.90" cy="90.40" r="1.65" fill="none" stroke="#6170bf" stroke-width="0.7"/>
<circle cx="284.90" cy="90.80" r="1.65" fill="none" stroke="#6170bf" stroke-width="0.7"/>
<circle cx="288.50" cy="90.80" r="1.65" fill="none" stroke="#6170bf" stroke-width="0.7"/>
<circle cx="278.50" cy="92.50" r="1.65" fill="none" stroke="#6170bf" stroke-width="0.7"/>
<circle cx="290.60" cy="92.50" r="1.65" fill="none" stroke="#6170bf" stroke-width="0.7"/>
<circle cx="273.50" cy="94.00" r="1.65" fill="none" stroke="#6170bf" stroke-width="0.7"/>
<circle cx="266.40" cy="95.40" r="1.65" fill="none" stroke="#6170bf" stroke-width="0.7"/>
<circle cx="268.50" cy="97.50" r="1.65" fill="none" stroke="#6170bf" stroke-width="0.7"/>
<circle cx="271.40" cy="96.80" r="1.65" fill="none" stroke="#6170bf" stroke-width="0.7"/>
<circle cx="257.60" cy="98.20" r="1.65" fill="none" stroke="#6170bf" stroke-width="0.7"/>
<circle cx="258.60" cy="100.80" r="1.65" fill="none" stroke="#6170bf" stroke-width="0.7"/>
<circle cx="272.80" cy="100.40" r="1.65" fill="none" stroke="#6170bf" stroke-width="0.7"/>
<circle cx="287.80" cy="98.00" r="1.65" fill="none" stroke="#6170bf" stroke-width="0.7"/>
<circle cx="292.70" cy="99.00" r="1.65" fill="none" stroke="#6170bf" stroke-width="0.7"/>
<circle cx="285.60" cy="102.50" r="1.65" fill="none" stroke="#6170bf" stroke-width="0.7"/>
<circle cx="299.20" cy="106.80" r="1.65" fill="none" stroke="#6170bf" stroke-width="0.7"/>
<circle cx="272.10" cy="109.60" r="1.65" fill="none" stroke="#6170bf" stroke-width="0.7"/>
<circle cx="333.80" cy="47.60" r="1.65" fill="none" stroke="#6170bf" stroke-width="0.7"/>
<circle cx="342.30" cy="60.80" r="1.65" fill="none" stroke="#6170bf" stroke-width="0.7"/>
<circle cx="311.70" cy="76.90" r="1.65" fill="none" stroke="#6170bf" stroke-width="0.7"/>
<circle cx="313.10" cy="81.20" r="1.65" fill="none" stroke="#6170bf" stroke-width="0.7"/>
<circle cx="306.00" cy="83.60" r="1.65" fill="none" stroke="#6170bf" stroke-width="0.7"/>
<circle cx="303.10" cy="88.00" r="1.65" fill="none" stroke="#6170bf" stroke-width="0.7"/>
<circle cx="335.90" cy="77.60" r="1.65" fill="none" stroke="#6170bf" stroke-width="0.7"/>
<circle cx="327.40" cy="94.80" r="1.65" fill="none" stroke="#6170bf" stroke-width="0.7"/>
<circle cx="329.90" cy="102.20" r="1.65" fill="none" stroke="#6170bf" stroke-width="0.7"/>
<circle cx="310.70" cy="111.90" r="1.65" fill="none" stroke="#6170bf" stroke-width="0.7"/>
<line x1="215.00" y1="73.50" x2="342.30" y2="80.10" stroke="#34429a" stroke-width="1.3"/>
<text x="-0.4" y="162.10" font-size="8.3" style="fill:#111;stroke:#111;stroke-width:0.15px">B</text>
<text x="178.0" y="162.10" font-size="8.3" style="fill:#111;stroke:#111;stroke-width:0.15px">B</text>
<path d="M184.6,156.20 L184.1,157.90" stroke="#666" stroke-width="0.9"/>
<line x1="24" y1="169.67" x2="24" y2="267.89" stroke="#777" stroke-width="1.6"/>
<line x1="21" y1="267.59" x2="24" y2="267.59" stroke="#555" stroke-width="0.8"/>
<text x="19.2" y="269.79" font-size="6.2" text-anchor="end">-10</text>
<line x1="21" y1="253.64" x2="24" y2="253.64" stroke="#555" stroke-width="0.8"/>
<text x="19.2" y="255.84" font-size="6.2" text-anchor="end">-5</text>
<line x1="21" y1="239.70" x2="24" y2="239.70" stroke="#555" stroke-width="0.8"/>
<text x="19.2" y="241.90" font-size="6.2" text-anchor="end">0</text>
<line x1="21" y1="225.75" x2="24" y2="225.75" stroke="#555" stroke-width="0.8"/>
<text x="19.2" y="227.95" font-size="6.2" text-anchor="end">5</text>
<line x1="21" y1="211.81" x2="24" y2="211.81" stroke="#555" stroke-width="0.8"/>
<text x="19.2" y="214.01" font-size="6.2" text-anchor="end">10</text>
<line x1="21" y1="197.86" x2="24" y2="197.86" stroke="#555" stroke-width="0.8"/>
<text x="19.2" y="200.06" font-size="6.2" text-anchor="end">15</text>
<line x1="21" y1="183.92" x2="24" y2="183.92" stroke="#555" stroke-width="0.8"/>
<text x="19.2" y="186.12" font-size="6.2" text-anchor="end">20</text>
<line x1="21" y1="169.97" x2="24" y2="169.97" stroke="#555" stroke-width="0.8"/>
<text x="19.2" y="172.17" font-size="6.2" text-anchor="end">25</text>
<text transform="translate(7.3,219.10) rotate(-90)" font-size="6.5" text-anchor="middle" textLength="38.2" lengthAdjust="spacingAndGlyphs">DFA (degree)</text>
<path d="M59.5,275.10 V272.10 H130.4 V275.10" stroke="#444" stroke-width="1" fill="none"/>
<text x="59.5" y="281.40" font-size="6.5" text-anchor="middle" textLength="18.4" lengthAdjust="spacingAndGlyphs">Manual</text>
<text x="130.4" y="281.40" font-size="6.5" text-anchor="middle" textLength="29.0" lengthAdjust="spacingAndGlyphs">Base-model</text>
<path d="M59.50,172.01 L58.70,172.01 C58.65,175.04 58.68,186.36 58.40,190.17 C58.12,193.99 57.67,193.35 57.00,194.92 C56.33,196.48 55.67,198.00 54.40,199.56 C53.13,201.13 51.30,202.74 49.40,204.31 C47.50,205.87 45.12,207.39 43.00,208.95 C40.88,210.52 38.52,212.13 36.70,213.70 C34.88,215.26 33.00,217.19 32.10,218.34 C31.20,219.49 31.30,219.70 31.30,220.61 C31.30,221.52 31.10,222.50 32.10,223.81 C33.10,225.12 35.23,226.89 37.30,228.45 C39.37,230.02 42.23,231.63 44.50,233.20 C46.77,234.76 49.17,236.28 50.90,237.84 C52.63,239.41 53.78,241.02 54.90,242.59 C56.02,244.15 57.02,245.65 57.60,247.23 C58.18,248.81 58.22,248.75 58.40,252.08 C58.58,255.42 58.65,264.72 58.70,267.25 L59.50,267.25 Z" fill="#c9cee7" stroke="#767a90" stroke-opacity="0.55" stroke-width="0.45"/>
<path d="M130.40,168.79 L129.60,168.79 C129.55,171.99 129.53,183.87 129.30,187.98 C129.07,192.09 128.77,191.77 128.20,193.45 C127.63,195.14 126.97,196.53 125.90,198.09 C124.83,199.66 123.55,201.28 121.80,202.84 C120.05,204.40 117.53,205.92 115.40,207.48 C113.27,209.05 110.82,210.66 109.00,212.23 C107.18,213.79 105.70,215.41 104.50,216.87 C103.30,218.33 102.20,220.05 101.80,221.00 C101.40,221.95 101.20,221.55 102.10,222.55 C103.00,223.55 105.13,225.45 107.20,226.98 C109.27,228.52 112.45,230.17 114.50,231.73 C116.55,233.30 117.98,234.81 119.50,236.37 C121.02,237.94 122.38,239.56 123.60,241.12 C124.82,242.69 125.90,243.96 126.80,245.76 C127.70,247.57 128.53,248.27 129.00,251.95 C129.47,255.63 129.50,265.20 129.60,267.84 L130.40,267.84 Z" fill="#c8eaf6" stroke="#767a90" stroke-opacity="0.55" stroke-width="0.45"/>
<g stroke="#43509f" stroke-width="0.9" fill="none">
<rect x="50.50" y="213.39" width="18.00" height="13.62"/>
<line x1="50.50" y1="220.71" x2="68.50" y2="220.71"/>
<line x1="59.50" y1="192.34" x2="59.50" y2="213.39"/>
<line x1="59.50" y1="227.01" x2="59.50" y2="247.95"/>
<line x1="55.00" y1="192.34" x2="64.00" y2="192.34"/>
<line x1="55.00" y1="247.95" x2="64.00" y2="247.95"/>
</g>
<g stroke="#41bfe2" stroke-width="0.9" fill="none">
<rect x="121.40" y="212.50" width="18.00" height="14.50"/>
<line x1="121.40" y1="220.20" x2="139.40" y2="220.20"/>
<line x1="130.40" y1="193.30" x2="130.40" y2="212.50"/>
<line x1="130.40" y1="227.00" x2="130.40" y2="246.60"/>
<line x1="125.90" y1="193.30" x2="134.90" y2="193.30"/>
<line x1="125.90" y1="246.60" x2="134.90" y2="246.60"/>
</g>
<circle cx="66.36" cy="263.31" r="1.1" fill="#42509f" fill-opacity="0.72"/>
<circle cx="139.33" cy="267.84" r="1.1" fill="#2fb2da" fill-opacity="0.72"/>
<circle cx="68.53" cy="247.34" r="1.1" fill="#42509f" fill-opacity="0.72"/>
<circle cx="133.51" cy="251.59" r="1.1" fill="#2fb2da" fill-opacity="0.72"/>
<circle cx="61.12" cy="237.85" r="1.1" fill="#42509f" fill-opacity="0.72"/>
<circle cx="136.13" cy="240.77" r="1.1" fill="#2fb2da" fill-opacity="0.72"/>
<circle cx="64.10" cy="235.14" r="1.1" fill="#42509f" fill-opacity="0.72"/>
<circle cx="141.06" cy="238.06" r="1.1" fill="#2fb2da" fill-opacity="0.72"/>
<circle cx="68.80" cy="233.10" r="1.1" fill="#42509f" fill-opacity="0.72"/>
<circle cx="138.70" cy="237.16" r="1.1" fill="#2fb2da" fill-opacity="0.72"/>
<circle cx="67.31" cy="246.03" r="1.1" fill="#42509f" fill-opacity="0.72"/>
<circle cx="139.37" cy="248.09" r="1.1" fill="#2fb2da" fill-opacity="0.72"/>
<circle cx="62.64" cy="238.60" r="1.1" fill="#42509f" fill-opacity="0.72"/>
<circle cx="136.87" cy="240.49" r="1.1" fill="#2fb2da" fill-opacity="0.72"/>
<circle cx="62.83" cy="247.45" r="1.1" fill="#42509f" fill-opacity="0.72"/>
<circle cx="142.14" cy="247.29" r="1.1" fill="#2fb2da" fill-opacity="0.72"/>
<circle cx="61.66" cy="238.42" r="1.1" fill="#42509f" fill-opacity="0.72"/>
<circle cx="141.15" cy="238.50" r="1.1" fill="#2fb2da" fill-opacity="0.72"/>
<circle cx="61.84" cy="235.37" r="1.1" fill="#42509f" fill-opacity="0.72"/>
<circle cx="139.66" cy="234.88" r="1.1" fill="#2fb2da" fill-opacity="0.72"/>
<circle cx="64.81" cy="241.89" r="1.1" fill="#42509f" fill-opacity="0.72"/>
<circle cx="136.47" cy="237.97" r="1.1" fill="#2fb2da" fill-opacity="0.72"/>
<circle cx="70.52" cy="237.18" r="1.1" fill="#42509f" fill-opacity="0.72"/>
<circle cx="132.11" cy="233.85" r="1.1" fill="#2fb2da" fill-opacity="0.72"/>
<circle cx="61.69" cy="241.61" r="1.1" fill="#42509f" fill-opacity="0.72"/>
<circle cx="142.24" cy="237.48" r="1.1" fill="#2fb2da" fill-opacity="0.72"/>
<circle cx="66.75" cy="241.81" r="1.1" fill="#42509f" fill-opacity="0.72"/>
<circle cx="132.93" cy="237.28" r="1.1" fill="#2fb2da" fill-opacity="0.72"/>
<circle cx="72.15" cy="225.69" r="1.1" fill="#42509f" fill-opacity="0.72"/>
<circle cx="142.60" cy="234.19" r="1.1" fill="#2fb2da" fill-opacity="0.72"/>
<circle cx="62.27" cy="208.70" r="1.1" fill="#42509f" fill-opacity="0.72"/>
<circle cx="136.68" cy="214.61" r="1.1" fill="#2fb2da" fill-opacity="0.72"/>
<circle cx="62.53" cy="213.32" r="1.1" fill="#42509f" fill-opacity="0.72"/>
<circle cx="135.43" cy="218.35" r="1.1" fill="#2fb2da" fill-opacity="0.72"/>
<circle cx="68.02" cy="232.01" r="1.1" fill="#42509f" fill-opacity="0.72"/>
<circle cx="133.75" cy="236.08" r="1.1" fill="#2fb2da" fill-opacity="0.72"/>
<circle cx="68.87" cy="227.84" r="1.1" fill="#42509f" fill-opacity="0.72"/>
<circle cx="132.48" cy="232.04" r="1.1" fill="#2fb2da" fill-opacity="0.72"/>
<circle cx="62.93" cy="224.69" r="1.1" fill="#42509f" fill-opacity="0.72"/>
<circle cx="141.12" cy="229.15" r="1.1" fill="#2fb2da" fill-opacity="0.72"/>
<circle cx="65.53" cy="223.40" r="1.1" fill="#42509f" fill-opacity="0.72"/>
<circle cx="136.63" cy="227.65" r="1.1" fill="#2fb2da" fill-opacity="0.72"/>
<circle cx="67.73" cy="219.53" r="1.1" fill="#42509f" fill-opacity="0.72"/>
<circle cx="137.29" cy="223.15" r="1.1" fill="#2fb2da" fill-opacity="0.72"/>
<circle cx="65.35" cy="216.21" r="1.1" fill="#42509f" fill-opacity="0.72"/>
<circle cx="132.24" cy="220.27" r="1.1" fill="#2fb2da" fill-opacity="0.72"/>
<circle cx="69.21" cy="212.72" r="1.1" fill="#42509f" fill-opacity="0.72"/>
<circle cx="142.83" cy="216.79" r="1.1" fill="#2fb2da" fill-opacity="0.72"/>
<circle cx="72.03" cy="209.40" r="1.1" fill="#42509f" fill-opacity="0.72"/>
<circle cx="139.40" cy="213.91" r="1.1" fill="#2fb2da" fill-opacity="0.72"/>
<circle cx="65.03" cy="201.60" r="1.1" fill="#42509f" fill-opacity="0.72"/>
<circle cx="136.00" cy="205.44" r="1.1" fill="#2fb2da" fill-opacity="0.72"/>
<circle cx="68.80" cy="209.59" r="1.1" fill="#42509f" fill-opacity="0.72"/>
<circle cx="139.51" cy="212.79" r="1.1" fill="#2fb2da" fill-opacity="0.72"/>
<circle cx="62.29" cy="232.32" r="1.1" fill="#42509f" fill-opacity="0.72"/>
<circle cx="134.56" cy="235.15" r="1.1" fill="#2fb2da" fill-opacity="0.72"/>
<circle cx="65.11" cy="229.72" r="1.1" fill="#42509f" fill-opacity="0.72"/>
<circle cx="137.68" cy="232.48" r="1.1" fill="#2fb2da" fill-opacity="0.72"/>
<circle cx="70.15" cy="225.32" r="1.1" fill="#42509f" fill-opacity="0.72"/>
<circle cx="137.55" cy="228.52" r="1.1" fill="#2fb2da" fill-opacity="0.72"/>
<circle cx="61.32" cy="221.58" r="1.1" fill="#42509f" fill-opacity="0.72"/>
<circle cx="141.20" cy="224.50" r="1.1" fill="#2fb2da" fill-opacity="0.72"/>
<circle cx="65.86" cy="216.28" r="1.1" fill="#42509f" fill-opacity="0.72"/>
<circle cx="137.76" cy="219.42" r="1.1" fill="#2fb2da" fill-opacity="0.72"/>
<circle cx="63.51" cy="212.43" r="1.1" fill="#42509f" fill-opacity="0.72"/>
<circle cx="136.73" cy="214.91" r="1.1" fill="#2fb2da" fill-opacity="0.72"/>
<circle cx="65.39" cy="219.56" r="1.1" fill="#42509f" fill-opacity="0.72"/>
<circle cx="140.62" cy="222.03" r="1.1" fill="#2fb2da" fill-opacity="0.72"/>
<circle cx="62.16" cy="225.06" r="1.1" fill="#42509f" fill-opacity="0.72"/>
<circle cx="138.11" cy="227.53" r="1.1" fill="#2fb2da" fill-opacity="0.72"/>
<circle cx="63.01" cy="234.89" r="1.1" fill="#42509f" fill-opacity="0.72"/>
<circle cx="139.76" cy="237.69" r="1.1" fill="#2fb2da" fill-opacity="0.72"/>
<circle cx="61.42" cy="229.37" r="1.1" fill="#42509f" fill-opacity="0.72"/>
<circle cx="135.02" cy="232.06" r="1.1" fill="#2fb2da" fill-opacity="0.72"/>
<circle cx="64.89" cy="222.14" r="1.1" fill="#42509f" fill-opacity="0.72"/>
<circle cx="139.10" cy="225.03" r="1.1" fill="#2fb2da" fill-opacity="0.72"/>
<circle cx="61.59" cy="220.19" r="1.1" fill="#42509f" fill-opacity="0.72"/>
<circle cx="137.09" cy="222.48" r="1.1" fill="#2fb2da" fill-opacity="0.72"/>
<circle cx="63.36" cy="216.63" r="1.1" fill="#42509f" fill-opacity="0.72"/>
<circle cx="135.09" cy="219.54" r="1.1" fill="#2fb2da" fill-opacity="0.72"/>
<circle cx="66.38" cy="232.05" r="1.1" fill="#42509f" fill-opacity="0.72"/>
<circle cx="142.73" cy="233.87" r="1.1" fill="#2fb2da" fill-opacity="0.72"/>
<circle cx="66.44" cy="228.17" r="1.1" fill="#42509f" fill-opacity="0.72"/>
<circle cx="142.70" cy="230.00" r="1.1" fill="#2fb2da" fill-opacity="0.72"/>
<circle cx="62.89" cy="224.71" r="1.1" fill="#42509f" fill-opacity="0.72"/>
<circle cx="142.34" cy="226.80" r="1.1" fill="#2fb2da" fill-opacity="0.72"/>
<circle cx="65.12" cy="220.43" r="1.1" fill="#42509f" fill-opacity="0.72"/>
<circle cx="134.04" cy="222.25" r="1.1" fill="#2fb2da" fill-opacity="0.72"/>
<circle cx="69.46" cy="212.55" r="1.1" fill="#42509f" fill-opacity="0.72"/>
<circle cx="142.21" cy="214.79" r="1.1" fill="#2fb2da" fill-opacity="0.72"/>
<circle cx="61.08" cy="213.36" r="1.1" fill="#42509f" fill-opacity="0.72"/>
<circle cx="134.93" cy="215.06" r="1.1" fill="#2fb2da" fill-opacity="0.72"/>
<circle cx="69.71" cy="210.03" r="1.1" fill="#42509f" fill-opacity="0.72"/>
<circle cx="135.76" cy="211.73" r="1.1" fill="#2fb2da" fill-opacity="0.72"/>
<circle cx="63.73" cy="200.05" r="1.1" fill="#42509f" fill-opacity="0.72"/>
<circle cx="132.00" cy="201.88" r="1.1" fill="#2fb2da" fill-opacity="0.72"/>
<circle cx="61.45" cy="225.10" r="1.1" fill="#42509f" fill-opacity="0.72"/>
<circle cx="138.90" cy="226.41" r="1.1" fill="#2fb2da" fill-opacity="0.72"/>
<circle cx="72.12" cy="222.39" r="1.1" fill="#42509f" fill-opacity="0.72"/>
<circle cx="143.18" cy="223.70" r="1.1" fill="#2fb2da" fill-opacity="0.72"/>
<circle cx="66.69" cy="218.99" r="1.1" fill="#42509f" fill-opacity="0.72"/>
<circle cx="132.17" cy="220.43" r="1.1" fill="#2fb2da" fill-opacity="0.72"/>
<circle cx="64.64" cy="210.83" r="1.1" fill="#42509f" fill-opacity="0.72"/>
<circle cx="140.80" cy="212.01" r="1.1" fill="#2fb2da" fill-opacity="0.72"/>
<circle cx="70.40" cy="208.20" r="1.1" fill="#42509f" fill-opacity="0.72"/>
<circle cx="139.13" cy="209.23" r="1.1" fill="#2fb2da" fill-opacity="0.72"/>
<circle cx="63.59" cy="204.25" r="1.1" fill="#42509f" fill-opacity="0.72"/>
<circle cx="137.86" cy="205.43" r="1.1" fill="#2fb2da" fill-opacity="0.72"/>
<circle cx="66.39" cy="233.15" r="1.1" fill="#42509f" fill-opacity="0.72"/>
<circle cx="138.99" cy="233.85" r="1.1" fill="#2fb2da" fill-opacity="0.72"/>
<circle cx="63.97" cy="226.53" r="1.1" fill="#42509f" fill-opacity="0.72"/>
<circle cx="142.60" cy="227.30" r="1.1" fill="#2fb2da" fill-opacity="0.72"/>
<circle cx="71.11" cy="223.20" r="1.1" fill="#42509f" fill-opacity="0.72"/>
<circle cx="133.73" cy="223.97" r="1.1" fill="#2fb2da" fill-opacity="0.72"/>
<circle cx="64.29" cy="219.36" r="1.1" fill="#42509f" fill-opacity="0.72"/>
<circle cx="141.77" cy="220.06" r="1.1" fill="#2fb2da" fill-opacity="0.72"/>
<circle cx="64.14" cy="213.76" r="1.1" fill="#42509f" fill-opacity="0.72"/>
<circle cx="142.57" cy="214.66" r="1.1" fill="#2fb2da" fill-opacity="0.72"/>
<circle cx="66.82" cy="211.71" r="1.1" fill="#42509f" fill-opacity="0.72"/>
<circle cx="139.76" cy="212.22" r="1.1" fill="#2fb2da" fill-opacity="0.72"/>
<circle cx="68.96" cy="217.21" r="1.1" fill="#42509f" fill-opacity="0.72"/>
<circle cx="134.32" cy="217.72" r="1.1" fill="#2fb2da" fill-opacity="0.72"/>
<circle cx="64.22" cy="201.73" r="1.1" fill="#42509f" fill-opacity="0.72"/>
<circle cx="134.78" cy="202.37" r="1.1" fill="#2fb2da" fill-opacity="0.72"/>
<circle cx="68.72" cy="222.45" r="1.1" fill="#42509f" fill-opacity="0.72"/>
<circle cx="139.74" cy="222.55" r="1.1" fill="#2fb2da" fill-opacity="0.72"/>
<circle cx="62.49" cy="218.58" r="1.1" fill="#42509f" fill-opacity="0.72"/>
<circle cx="141.92" cy="218.68" r="1.1" fill="#2fb2da" fill-opacity="0.72"/>
<circle cx="65.75" cy="214.70" r="1.1" fill="#42509f" fill-opacity="0.72"/>
<circle cx="134.63" cy="214.80" r="1.1" fill="#2fb2da" fill-opacity="0.72"/>
<circle cx="65.92" cy="205.33" r="1.1" fill="#42509f" fill-opacity="0.72"/>
<circle cx="142.97" cy="205.43" r="1.1" fill="#2fb2da" fill-opacity="0.72"/>
<circle cx="67.33" cy="234.86" r="1.1" fill="#42509f" fill-opacity="0.72"/>
<circle cx="138.96" cy="234.31" r="1.1" fill="#2fb2da" fill-opacity="0.72"/>
<circle cx="71.40" cy="229.84" r="1.1" fill="#42509f" fill-opacity="0.72"/>
<circle cx="142.77" cy="229.42" r="1.1" fill="#2fb2da" fill-opacity="0.72"/>
<circle cx="69.59" cy="226.44" r="1.1" fill="#42509f" fill-opacity="0.72"/>
<circle cx="136.62" cy="226.15" r="1.1" fill="#2fb2da" fill-opacity="0.72"/>
<circle cx="67.65" cy="221.55" r="1.1" fill="#42509f" fill-opacity="0.72"/>
<circle cx="142.08" cy="221.13" r="1.1" fill="#2fb2da" fill-opacity="0.72"/>
<circle cx="69.92" cy="216.59" r="1.1" fill="#42509f" fill-opacity="0.72"/>
<circle cx="138.46" cy="216.17" r="1.1" fill="#2fb2da" fill-opacity="0.72"/>
<circle cx="64.93" cy="211.63" r="1.1" fill="#42509f" fill-opacity="0.72"/>
<circle cx="136.06" cy="211.21" r="1.1" fill="#2fb2da" fill-opacity="0.72"/>
<circle cx="69.31" cy="229.63" r="1.1" fill="#42509f" fill-opacity="0.72"/>
<circle cx="138.27" cy="228.54" r="1.1" fill="#2fb2da" fill-opacity="0.72"/>
<circle cx="61.19" cy="225.68" r="1.1" fill="#42509f" fill-opacity="0.72"/>
<circle cx="139.92" cy="224.74" r="1.1" fill="#2fb2da" fill-opacity="0.72"/>
<circle cx="71.21" cy="222.49" r="1.1" fill="#42509f" fill-opacity="0.72"/>
<circle cx="140.91" cy="221.27" r="1.1" fill="#2fb2da" fill-opacity="0.72"/>
<circle cx="71.14" cy="219.71" r="1.1" fill="#42509f" fill-opacity="0.72"/>
<circle cx="142.19" cy="218.63" r="1.1" fill="#2fb2da" fill-opacity="0.72"/>
<circle cx="67.04" cy="215.22" r="1.1" fill="#42509f" fill-opacity="0.72"/>
<circle cx="140.82" cy="214.29" r="1.1" fill="#2fb2da" fill-opacity="0.72"/>
<circle cx="65.29" cy="210.94" r="1.1" fill="#42509f" fill-opacity="0.72"/>
<circle cx="133.01" cy="209.73" r="1.1" fill="#2fb2da" fill-opacity="0.72"/>
<circle cx="64.99" cy="207.47" r="1.1" fill="#42509f" fill-opacity="0.72"/>
<circle cx="135.43" cy="206.54" r="1.1" fill="#2fb2da" fill-opacity="0.72"/>
<circle cx="71.55" cy="232.20" r="1.1" fill="#42509f" fill-opacity="0.72"/>
<circle cx="139.69" cy="230.47" r="1.1" fill="#2fb2da" fill-opacity="0.72"/>
<circle cx="67.12" cy="227.72" r="1.1" fill="#42509f" fill-opacity="0.72"/>
<circle cx="138.93" cy="226.12" r="1.1" fill="#2fb2da" fill-opacity="0.72"/>
<circle cx="62.41" cy="225.06" r="1.1" fill="#42509f" fill-opacity="0.72"/>
<circle cx="137.94" cy="223.20" r="1.1" fill="#2fb2da" fill-opacity="0.72"/>
<circle cx="68.92" cy="222.14" r="1.1" fill="#42509f" fill-opacity="0.72"/>
<circle cx="136.35" cy="220.54" r="1.1" fill="#2fb2da" fill-opacity="0.72"/>
<circle cx="63.78" cy="212.32" r="1.1" fill="#42509f" fill-opacity="0.72"/>
<circle cx="136.50" cy="210.53" r="1.1" fill="#2fb2da" fill-opacity="0.72"/>
<circle cx="64.66" cy="209.58" r="1.1" fill="#42509f" fill-opacity="0.72"/>
<circle cx="139.64" cy="207.84" r="1.1" fill="#2fb2da" fill-opacity="0.72"/>
<circle cx="62.60" cy="233.08" r="1.1" fill="#42509f" fill-opacity="0.72"/>
<circle cx="132.92" cy="230.68" r="1.1" fill="#2fb2da" fill-opacity="0.72"/>
<circle cx="64.53" cy="228.12" r="1.1" fill="#42509f" fill-opacity="0.72"/>
<circle cx="139.76" cy="225.72" r="1.1" fill="#2fb2da" fill-opacity="0.72"/>
<circle cx="69.58" cy="219.83" r="1.1" fill="#42509f" fill-opacity="0.72"/>
<circle cx="139.35" cy="217.43" r="1.1" fill="#2fb2da" fill-opacity="0.72"/>
<circle cx="71.56" cy="217.10" r="1.1" fill="#42509f" fill-opacity="0.72"/>
<circle cx="136.03" cy="214.57" r="1.1" fill="#2fb2da" fill-opacity="0.72"/>
<circle cx="61.34" cy="212.62" r="1.1" fill="#42509f" fill-opacity="0.72"/>
<circle cx="137.41" cy="210.22" r="1.1" fill="#2fb2da" fill-opacity="0.72"/>
<circle cx="66.01" cy="236.18" r="1.1" fill="#42509f" fill-opacity="0.72"/>
<circle cx="133.93" cy="233.00" r="1.1" fill="#2fb2da" fill-opacity="0.72"/>
<circle cx="68.54" cy="231.15" r="1.1" fill="#42509f" fill-opacity="0.72"/>
<circle cx="135.76" cy="228.10" r="1.1" fill="#2fb2da" fill-opacity="0.72"/>
<circle cx="63.69" cy="227.93" r="1.1" fill="#42509f" fill-opacity="0.72"/>
<circle cx="135.60" cy="224.66" r="1.1" fill="#2fb2da" fill-opacity="0.72"/>
<circle cx="71.66" cy="224.60" r="1.1" fill="#42509f" fill-opacity="0.72"/>
<circle cx="131.99" cy="221.49" r="1.1" fill="#2fb2da" fill-opacity="0.72"/>
<circle cx="65.07" cy="218.48" r="1.1" fill="#42509f" fill-opacity="0.72"/>
<circle cx="135.06" cy="215.37" r="1.1" fill="#2fb2da" fill-opacity="0.72"/>
<circle cx="63.28" cy="215.85" r="1.1" fill="#42509f" fill-opacity="0.72"/>
<circle cx="136.79" cy="212.58" r="1.1" fill="#2fb2da" fill-opacity="0.72"/>
<circle cx="63.49" cy="209.68" r="1.1" fill="#42509f" fill-opacity="0.72"/>
<circle cx="142.28" cy="206.50" r="1.1" fill="#2fb2da" fill-opacity="0.72"/>
<circle cx="66.66" cy="236.07" r="1.1" fill="#42509f" fill-opacity="0.72"/>
<circle cx="139.79" cy="232.02" r="1.1" fill="#2fb2da" fill-opacity="0.72"/>
<circle cx="62.83" cy="224.27" r="1.1" fill="#42509f" fill-opacity="0.72"/>
<circle cx="137.15" cy="220.74" r="1.1" fill="#2fb2da" fill-opacity="0.72"/>
<circle cx="67.85" cy="208.70" r="1.1" fill="#42509f" fill-opacity="0.72"/>
<circle cx="141.42" cy="205.32" r="1.1" fill="#2fb2da" fill-opacity="0.72"/>
<circle cx="63.82" cy="204.71" r="1.1" fill="#42509f" fill-opacity="0.72"/>
<circle cx="137.09" cy="200.47" r="1.1" fill="#2fb2da" fill-opacity="0.72"/>
<circle cx="70.66" cy="216.29" r="1.1" fill="#42509f" fill-opacity="0.72"/>
<circle cx="141.30" cy="211.05" r="1.1" fill="#2fb2da" fill-opacity="0.72"/>
<circle cx="63.57" cy="227.12" r="1.1" fill="#42509f" fill-opacity="0.72"/>
<circle cx="137.98" cy="221.14" r="1.1" fill="#2fb2da" fill-opacity="0.72"/>
<circle cx="69.60" cy="199.71" r="1.1" fill="#42509f" fill-opacity="0.72"/>
<circle cx="136.37" cy="201.59" r="1.1" fill="#2fb2da" fill-opacity="0.72"/>
<circle cx="68.61" cy="177.16" r="1.1" fill="#42509f" fill-opacity="0.72"/>
<circle cx="139.39" cy="178.91" r="1.1" fill="#2fb2da" fill-opacity="0.72"/>
<circle cx="71.99" cy="193.86" r="1.1" fill="#42509f" fill-opacity="0.72"/>
<circle cx="138.16" cy="193.50" r="1.1" fill="#2fb2da" fill-opacity="0.72"/>
<circle cx="68.69" cy="179.90" r="1.1" fill="#42509f" fill-opacity="0.72"/>
<circle cx="135.86" cy="179.41" r="1.1" fill="#2fb2da" fill-opacity="0.72"/>
<circle cx="69.27" cy="200.14" r="1.1" fill="#42509f" fill-opacity="0.72"/>
<circle cx="135.54" cy="198.85" r="1.1" fill="#2fb2da" fill-opacity="0.72"/>
<circle cx="66.65" cy="193.31" r="1.1" fill="#42509f" fill-opacity="0.72"/>
<circle cx="135.98" cy="191.89" r="1.1" fill="#2fb2da" fill-opacity="0.72"/>
<circle cx="64.47" cy="178.13" r="1.1" fill="#42509f" fill-opacity="0.72"/>
<circle cx="133.44" cy="176.85" r="1.1" fill="#2fb2da" fill-opacity="0.72"/>
<circle cx="63.55" cy="199.51" r="1.1" fill="#42509f" fill-opacity="0.72"/>
<circle cx="138.05" cy="197.30" r="1.1" fill="#2fb2da" fill-opacity="0.72"/>
<circle cx="63.85" cy="177.26" r="1.1" fill="#42509f" fill-opacity="0.72"/>
<circle cx="132.42" cy="174.31" r="1.1" fill="#2fb2da" fill-opacity="0.72"/>
<circle cx="70.08" cy="197.75" r="1.1" fill="#42509f" fill-opacity="0.72"/>
<circle cx="135.13" cy="190.85" r="1.1" fill="#2fb2da" fill-opacity="0.72"/>
<circle cx="71.58" cy="175.84" r="1.1" fill="#42509f" fill-opacity="0.72"/>
<circle cx="138.67" cy="170.92" r="1.1" fill="#2fb2da" fill-opacity="0.72"/>
<circle cx="65.40" cy="220.94" r="1.1" fill="#42509f" fill-opacity="0.72"/>
<circle cx="141.77" cy="219.25" r="1.1" fill="#2fb2da" fill-opacity="0.72"/>
<circle cx="71.14" cy="217.86" r="1.1" fill="#42509f" fill-opacity="0.72"/>
<circle cx="135.53" cy="220.32" r="1.1" fill="#2fb2da" fill-opacity="0.72"/>
<circle cx="62.42" cy="229.47" r="1.1" fill="#42509f" fill-opacity="0.72"/>
<circle cx="139.14" cy="232.00" r="1.1" fill="#2fb2da" fill-opacity="0.72"/>
<circle cx="70.52" cy="214.32" r="1.1" fill="#42509f" fill-opacity="0.72"/>
<circle cx="138.78" cy="210.91" r="1.1" fill="#2fb2da" fill-opacity="0.72"/>
<circle cx="69.86" cy="223.18" r="1.1" fill="#42509f" fill-opacity="0.72"/>
<circle cx="136.56" cy="223.92" r="1.1" fill="#2fb2da" fill-opacity="0.72"/>
<circle cx="67.98" cy="222.00" r="1.1" fill="#42509f" fill-opacity="0.72"/>
<circle cx="134.87" cy="220.76" r="1.1" fill="#2fb2da" fill-opacity="0.72"/>
<circle cx="65.60" cy="220.48" r="1.1" fill="#42509f" fill-opacity="0.72"/>
<circle cx="136.19" cy="218.41" r="1.1" fill="#2fb2da" fill-opacity="0.72"/>
<circle cx="65.35" cy="227.90" r="1.1" fill="#42509f" fill-opacity="0.72"/>
<circle cx="136.41" cy="230.00" r="1.1" fill="#2fb2da" fill-opacity="0.72"/>
<circle cx="70.12" cy="210.73" r="1.1" fill="#42509f" fill-opacity="0.72"/>
<circle cx="133.82" cy="211.78" r="1.1" fill="#2fb2da" fill-opacity="0.72"/>
<circle cx="63.32" cy="225.51" r="1.1" fill="#42509f" fill-opacity="0.72"/>
<circle cx="134.78" cy="225.82" r="1.1" fill="#2fb2da" fill-opacity="0.72"/>
<circle cx="71.97" cy="224.84" r="1.1" fill="#42509f" fill-opacity="0.72"/>
<circle cx="137.81" cy="221.67" r="1.1" fill="#2fb2da" fill-opacity="0.72"/>
<circle cx="61.60" cy="222.23" r="1.1" fill="#42509f" fill-opacity="0.72"/>
<circle cx="141.34" cy="220.64" r="1.1" fill="#2fb2da" fill-opacity="0.72"/>
<circle cx="70.87" cy="226.03" r="1.1" fill="#42509f" fill-opacity="0.72"/>
<circle cx="141.18" cy="227.32" r="1.1" fill="#2fb2da" fill-opacity="0.72"/>
<circle cx="65.05" cy="225.94" r="1.1" fill="#42509f" fill-opacity="0.72"/>
<circle cx="140.20" cy="226.39" r="1.1" fill="#2fb2da" fill-opacity="0.72"/>
<rect x="209.00" y="166.90" width="141.50" height="105.20" fill="none" stroke="#3c3c3c" stroke-width="1.3"/>
<line x1="205.5" y1="264.70" x2="209.00" y2="264.70" stroke="#555" stroke-width="0.8"/>
<text x="203.6" y="266.90" font-size="6.2" text-anchor="end">-3</text>
<line x1="205.5" y1="249.65" x2="209.00" y2="249.65" stroke="#555" stroke-width="0.8"/>
<text x="203.6" y="251.85" font-size="6.2" text-anchor="end">-2</text>
<line x1="205.5" y1="234.60" x2="209.00" y2="234.60" stroke="#555" stroke-width="0.8"/>
<text x="203.6" y="236.80" font-size="6.2" text-anchor="end">-1</text>
<line x1="205.5" y1="219.55" x2="209.00" y2="219.55" stroke="#555" stroke-width="0.8"/>
<text x="203.6" y="221.75" font-size="6.2" text-anchor="end">0</text>
<line x1="205.5" y1="204.50" x2="209.00" y2="204.50" stroke="#555" stroke-width="0.8"/>
<text x="203.6" y="206.70" font-size="6.2" text-anchor="end">1</text>
<line x1="205.5" y1="189.45" x2="209.00" y2="189.45" stroke="#555" stroke-width="0.8"/>
<text x="203.6" y="191.65" font-size="6.2" text-anchor="end">2</text>
<line x1="205.5" y1="174.40" x2="209.00" y2="174.40" stroke="#555" stroke-width="0.8"/>
<text x="203.6" y="176.60" font-size="6.2" text-anchor="end">3</text>
<line x1="216.70" y1="272.10" x2="216.70" y2="275.10" stroke="#555" stroke-width="0.8"/>
<text x="216.70" y="281.80" font-size="6.2" text-anchor="middle">-10</text>
<line x1="234.70" y1="272.10" x2="234.70" y2="275.10" stroke="#555" stroke-width="0.8"/>
<text x="234.70" y="281.80" font-size="6.2" text-anchor="middle">-5</text>
<line x1="252.70" y1="272.10" x2="252.70" y2="275.10" stroke="#555" stroke-width="0.8"/>
<text x="252.70" y="281.80" font-size="6.2" text-anchor="middle">0</text>
<line x1="270.70" y1="272.10" x2="270.70" y2="275.10" stroke="#555" stroke-width="0.8"/>
<text x="270.70" y="281.80" font-size="6.2" text-anchor="middle">5</text>
<line x1="288.70" y1="272.10" x2="288.70" y2="275.10" stroke="#555" stroke-width="0.8"/>
<text x="288.70" y="281.80" font-size="6.2" text-anchor="middle">10</text>
<line x1="306.70" y1="272.10" x2="306.70" y2="275.10" stroke="#555" stroke-width="0.8"/>
<text x="306.70" y="281.80" font-size="6.2" text-anchor="middle">15</text>
<line x1="324.70" y1="272.10" x2="324.70" y2="275.10" stroke="#555" stroke-width="0.8"/>
<text x="324.70" y="281.80" font-size="6.2" text-anchor="middle">20</text>
<line x1="342.70" y1="272.10" x2="342.70" y2="275.10" stroke="#555" stroke-width="0.8"/>
<text x="342.70" y="281.80" font-size="6.2" text-anchor="middle">25</text>
<text x="279.7" y="289.30" font-size="6.5" text-anchor="middle" textLength="41" lengthAdjust="spacingAndGlyphs">Mean (degree)</text>
<text transform="translate(195.3,219.30) rotate(-90)" font-size="6.5" text-anchor="middle" textLength="55" lengthAdjust="spacingAndGlyphs">Difference (degree)</text>
<line x1="219.00" y1="191.20" x2="338.30" y2="191.20" stroke="#3ccbeb" stroke-width="1.4" stroke-dasharray="3,1.27"/>
<line x1="219.00" y1="246.30" x2="338.30" y2="246.30" stroke="#3ccbeb" stroke-width="1.4" stroke-dasharray="3,1.27"/>
<line x1="219.00" y1="218.80" x2="338.30" y2="218.80" stroke="#5fd3f0" stroke-width="1.8"/>
<circle cx="219.30" cy="195.10" r="1.65" fill="none" stroke="#6170bf" stroke-width="0.7"/>
<circle cx="240.10" cy="196.60" r="1.65" fill="none" stroke="#6170bf" stroke-width="0.7"/>
<circle cx="253.20" cy="203.80" r="1.65" fill="none" stroke="#6170bf" stroke-width="0.7"/>
<circle cx="256.70" cy="203.80" r="1.65" fill="none" stroke="#6170bf" stroke-width="0.7"/>
<circle cx="258.60" cy="197.60" r="1.65" fill="none" stroke="#6170bf" stroke-width="0.7"/>
<circle cx="243.20" cy="208.40" r="1.65" fill="none" stroke="#6170bf" stroke-width="0.7"/>
<circle cx="252.90" cy="209.40" r="1.65" fill="none" stroke="#6170bf" stroke-width="0.7"/>
<circle cx="242.80" cy="220.40" r="1.65" fill="none" stroke="#6170bf" stroke-width="0.7"/>
<circle cx="254.30" cy="219.10" r="1.65" fill="none" stroke="#6170bf" stroke-width="0.7"/>
<circle cx="258.60" cy="222.20" r="1.65" fill="none" stroke="#6170bf" stroke-width="0.7"/>
<circle cx="252.40" cy="240.70" r="1.65" fill="none" stroke="#6170bf" stroke-width="0.7"/>
<circle cx="258.10" cy="237.50" r="1.65" fill="none" stroke="#6170bf" stroke-width="0.7"/>
<circle cx="252.90" cy="241.80" r="1.65" fill="none" stroke="#6170bf" stroke-width="0.7"/>
<circle cx="252.90" cy="244.00" r="1.65" fill="none" stroke="#6170bf" stroke-width="0.7"/>
<circle cx="265.30" cy="173.70" r="1.65" fill="none" stroke="#6170bf" stroke-width="0.7"/>
<circle cx="288.90" cy="187.70" r="1.65" fill="none" stroke="#6170bf" stroke-width="0.7"/>
<circle cx="283.50" cy="192.40" r="1.65" fill="none" stroke="#6170bf" stroke-width="0.7"/>
<circle cx="260.00" cy="197.60" r="1.65" fill="none" stroke="#6170bf" stroke-width="0.7"/>
<circle cx="265.30" cy="196.90" r="1.65" fill="none" stroke="#6170bf" stroke-width="0.7"/>
<circle cx="269.20" cy="195.50" r="1.65" fill="none" stroke="#6170bf" stroke-width="0.7"/>
<circle cx="271.00" cy="196.60" r="1.65" fill="none" stroke="#6170bf" stroke-width="0.7"/>
<circle cx="276.40" cy="200.00" r="1.65" fill="none" stroke="#6170bf" stroke-width="0.7"/>
<circle cx="280.40" cy="197.60" r="1.65" fill="none" stroke="#6170bf" stroke-width="0.7"/>
<circle cx="284.90" cy="197.60" r="1.65" fill="none" stroke="#6170bf" stroke-width="0.7"/>
<circle cx="288.90" cy="195.20" r="1.65" fill="none" stroke="#6170bf" stroke-width="0.7"/>
<circle cx="299.40" cy="198.80" r="1.65" fill="none" stroke="#6170bf" stroke-width="0.7"/>
<circle cx="289.50" cy="202.30" r="1.65" fill="none" stroke="#6170bf" stroke-width="0.7"/>
<circle cx="260.40" cy="204.30" r="1.65" fill="none" stroke="#6170bf" stroke-width="0.7"/>
<circle cx="263.80" cy="204.70" r="1.65" fill="none" stroke="#6170bf" stroke-width="0.7"/>
<circle cx="269.20" cy="202.30" r="1.65" fill="none" stroke="#6170bf" stroke-width="0.7"/>
<circle cx="274.20" cy="203.80" r="1.65" fill="none" stroke="#6170bf" stroke-width="0.7"/>
<circle cx="280.90" cy="202.60" r="1.65" fill="none" stroke="#6170bf" stroke-width="0.7"/>
<circle cx="286.30" cy="206.20" r="1.65" fill="none" stroke="#6170bf" stroke-width="0.7"/>
<circle cx="277.10" cy="206.20" r="1.65" fill="none" stroke="#6170bf" stroke-width="0.7"/>
<circle cx="270.00" cy="206.20" r="1.65" fill="none" stroke="#6170bf" stroke-width="0.7"/>
<circle cx="257.10" cy="204.40" r="1.65" fill="none" stroke="#6170bf" stroke-width="0.7"/>
<circle cx="264.30" cy="205.00" r="1.65" fill="none" stroke="#6170bf" stroke-width="0.7"/>
<circle cx="273.50" cy="204.00" r="1.65" fill="none" stroke="#6170bf" stroke-width="0.7"/>
<circle cx="276.40" cy="207.20" r="1.65" fill="none" stroke="#6170bf" stroke-width="0.7"/>
<circle cx="280.60" cy="203.80" r="1.65" fill="none" stroke="#6170bf" stroke-width="0.7"/>
<circle cx="261.40" cy="209.70" r="1.65" fill="none" stroke="#6170bf" stroke-width="0.7"/>
<circle cx="266.40" cy="209.70" r="1.65" fill="none" stroke="#6170bf" stroke-width="0.7"/>
<circle cx="270.70" cy="208.30" r="1.65" fill="none" stroke="#6170bf" stroke-width="0.7"/>
<circle cx="276.40" cy="209.70" r="1.65" fill="none" stroke="#6170bf" stroke-width="0.7"/>
<circle cx="286.30" cy="207.50" r="1.65" fill="none" stroke="#6170bf" stroke-width="0.7"/>
<circle cx="285.60" cy="210.40" r="1.65" fill="none" stroke="#6170bf" stroke-width="0.7"/>
<circle cx="289.90" cy="210.40" r="1.65" fill="none" stroke="#6170bf" stroke-width="0.7"/>
<circle cx="302.70" cy="209.70" r="1.65" fill="none" stroke="#6170bf" stroke-width="0.7"/>
<circle cx="270.70" cy="212.50" r="1.65" fill="none" stroke="#6170bf" stroke-width="0.7"/>
<circle cx="274.20" cy="212.50" r="1.65" fill="none" stroke="#6170bf" stroke-width="0.7"/>
<circle cx="278.50" cy="211.80" r="1.65" fill="none" stroke="#6170bf" stroke-width="0.7"/>
<circle cx="289.20" cy="213.20" r="1.65" fill="none" stroke="#6170bf" stroke-width="0.7"/>
<circle cx="292.70" cy="214.00" r="1.65" fill="none" stroke="#6170bf" stroke-width="0.7"/>
<circle cx="297.70" cy="213.20" r="1.65" fill="none" stroke="#6170bf" stroke-width="0.7"/>
<circle cx="260.70" cy="215.80" r="1.65" fill="none" stroke="#6170bf" stroke-width="0.7"/>
<circle cx="269.20" cy="215.40" r="1.65" fill="none" stroke="#6170bf" stroke-width="0.7"/>
<circle cx="273.50" cy="215.40" r="1.65" fill="none" stroke="#6170bf" stroke-width="0.7"/>
<circle cx="278.50" cy="215.80" r="1.65" fill="none" stroke="#6170bf" stroke-width="0.7"/>
<circle cx="285.60" cy="214.70" r="1.65" fill="none" stroke="#6170bf" stroke-width="0.7"/>
<circle cx="288.50" cy="216.80" r="1.65" fill="none" stroke="#6170bf" stroke-width="0.7"/>
<circle cx="281.40" cy="216.80" r="1.65" fill="none" stroke="#6170bf" stroke-width="0.7"/>
<circle cx="301.30" cy="216.10" r="1.65" fill="none" stroke="#6170bf" stroke-width="0.7"/>
<circle cx="274.90" cy="219.00" r="1.65" fill="none" stroke="#6170bf" stroke-width="0.7"/>
<circle cx="279.90" cy="219.00" r="1.65" fill="none" stroke="#6170bf" stroke-width="0.7"/>
<circle cx="284.90" cy="219.00" r="1.65" fill="none" stroke="#6170bf" stroke-width="0.7"/>
<circle cx="297.00" cy="219.00" r="1.65" fill="none" stroke="#6170bf" stroke-width="0.7"/>
<circle cx="259.30" cy="222.50" r="1.65" fill="none" stroke="#6170bf" stroke-width="0.7"/>
<circle cx="265.70" cy="221.80" r="1.65" fill="none" stroke="#6170bf" stroke-width="0.7"/>
<circle cx="270.00" cy="221.10" r="1.65" fill="none" stroke="#6170bf" stroke-width="0.7"/>
<circle cx="276.40" cy="221.80" r="1.65" fill="none" stroke="#6170bf" stroke-width="0.7"/>
<circle cx="282.80" cy="221.80" r="1.65" fill="none" stroke="#6170bf" stroke-width="0.7"/>
<circle cx="289.20" cy="221.80" r="1.65" fill="none" stroke="#6170bf" stroke-width="0.7"/>
<circle cx="266.40" cy="225.40" r="1.65" fill="none" stroke="#6170bf" stroke-width="0.7"/>
<circle cx="271.40" cy="224.60" r="1.65" fill="none" stroke="#6170bf" stroke-width="0.7"/>
<circle cx="275.70" cy="226.10" r="1.65" fill="none" stroke="#6170bf" stroke-width="0.7"/>
<circle cx="279.20" cy="225.40" r="1.65" fill="none" stroke="#6170bf" stroke-width="0.7"/>
<circle cx="284.90" cy="224.60" r="1.65" fill="none" stroke="#6170bf" stroke-width="0.7"/>
<circle cx="290.60" cy="226.10" r="1.65" fill="none" stroke="#6170bf" stroke-width="0.7"/>
<circle cx="294.90" cy="224.60" r="1.65" fill="none" stroke="#6170bf" stroke-width="0.7"/>
<circle cx="263.50" cy="228.90" r="1.65" fill="none" stroke="#6170bf" stroke-width="0.7"/>
<circle cx="269.20" cy="228.20" r="1.65" fill="none" stroke="#6170bf" stroke-width="0.7"/>
<circle cx="272.80" cy="229.60" r="1.65" fill="none" stroke="#6170bf" stroke-width="0.7"/>
<circle cx="276.40" cy="228.20" r="1.65" fill="none" stroke="#6170bf" stroke-width="0.7"/>
<circle cx="289.20" cy="229.20" r="1.65" fill="none" stroke="#6170bf" stroke-width="0.7"/>
<circle cx="292.70" cy="228.90" r="1.65" fill="none" stroke="#6170bf" stroke-width="0.7"/>
<circle cx="262.80" cy="232.50" r="1.65" fill="none" stroke="#6170bf" stroke-width="0.7"/>
<circle cx="269.20" cy="232.50" r="1.65" fill="none" stroke="#6170bf" stroke-width="0.7"/>
<circle cx="279.90" cy="232.50" r="1.65" fill="none" stroke="#6170bf" stroke-width="0.7"/>
<circle cx="283.50" cy="233.20" r="1.65" fill="none" stroke="#6170bf" stroke-width="0.7"/>
<circle cx="289.20" cy="232.50" r="1.65" fill="none" stroke="#6170bf" stroke-width="0.7"/>
<circle cx="259.30" cy="236.70" r="1.65" fill="none" stroke="#6170bf" stroke-width="0.7"/>
<circle cx="265.70" cy="236.00" r="1.65" fill="none" stroke="#6170bf" stroke-width="0.7"/>
<circle cx="270.00" cy="237.20" r="1.65" fill="none" stroke="#6170bf" stroke-width="0.7"/>
<circle cx="274.20" cy="236.30" r="1.65" fill="none" stroke="#6170bf" stroke-width="0.7"/>
<circle cx="282.10" cy="236.30" r="1.65" fill="none" stroke="#6170bf" stroke-width="0.7"/>
<circle cx="285.60" cy="237.20" r="1.65" fill="none" stroke="#6170bf" stroke-width="0.7"/>
<circle cx="293.50" cy="236.70" r="1.65" fill="none" stroke="#6170bf" stroke-width="0.7"/>
<circle cx="260.00" cy="241.40" r="1.65" fill="none" stroke="#6170bf" stroke-width="0.7"/>
<circle cx="274.90" cy="238.60" r="1.65" fill="none" stroke="#6170bf" stroke-width="0.7"/>
<circle cx="294.90" cy="237.80" r="1.65" fill="none" stroke="#6170bf" stroke-width="0.7"/>
<circle cx="300.60" cy="242.40" r="1.65" fill="none" stroke="#6170bf" stroke-width="0.7"/>
<circle cx="286.30" cy="247.80" r="1.65" fill="none" stroke="#6170bf" stroke-width="0.7"/>
<circle cx="272.80" cy="251.80" r="1.65" fill="none" stroke="#6170bf" stroke-width="0.7"/>
<circle cx="303.10" cy="209.40" r="1.65" fill="none" stroke="#6170bf" stroke-width="0.7"/>
<circle cx="332.30" cy="210.10" r="1.65" fill="none" stroke="#6170bf" stroke-width="0.7"/>
<circle cx="312.10" cy="221.50" r="1.65" fill="none" stroke="#6170bf" stroke-width="0.7"/>
<circle cx="330.20" cy="222.20" r="1.65" fill="none" stroke="#6170bf" stroke-width="0.7"/>
<circle cx="304.60" cy="226.50" r="1.65" fill="none" stroke="#6170bf" stroke-width="0.7"/>
<circle cx="313.50" cy="227.20" r="1.65" fill="none" stroke="#6170bf" stroke-width="0.7"/>
<circle cx="333.00" cy="226.50" r="1.65" fill="none" stroke="#6170bf" stroke-width="0.7"/>
<circle cx="306.00" cy="231.50" r="1.65" fill="none" stroke="#6170bf" stroke-width="0.7"/>
<circle cx="335.20" cy="235.50" r="1.65" fill="none" stroke="#6170bf" stroke-width="0.7"/>
<circle cx="311.30" cy="256.80" r="1.65" fill="none" stroke="#6170bf" stroke-width="0.7"/>
<circle cx="338.30" cy="246.10" r="1.65" fill="none" stroke="#6170bf" stroke-width="0.7"/>
<line x1="219.00" y1="208.70" x2="338.20" y2="228.90" stroke="#34429a" stroke-width="1.3"/>
<text x="-0.4" y="312.40" font-size="8.3" style="fill:#111;stroke:#111;stroke-width:0.15px">C</text>
<text x="178.0" y="312.40" font-size="8.3" style="fill:#111;stroke:#111;stroke-width:0.15px">C</text>
<path d="M184.6,306.50 L184.1,308.20" stroke="#666" stroke-width="0.9"/>
<line x1="24" y1="320.27" x2="24" y2="417.79" stroke="#777" stroke-width="1.6"/>
<line x1="21" y1="417.49" x2="24" y2="417.49" stroke="#555" stroke-width="0.8"/>
<text x="19.2" y="419.69" font-size="6.2" text-anchor="end">-10</text>
<line x1="21" y1="403.65" x2="24" y2="403.65" stroke="#555" stroke-width="0.8"/>
<text x="19.2" y="405.85" font-size="6.2" text-anchor="end">-5</text>
<line x1="21" y1="389.80" x2="24" y2="389.80" stroke="#555" stroke-width="0.8"/>
<text x="19.2" y="392.00" font-size="6.2" text-anchor="end">0</text>
<line x1="21" y1="375.95" x2="24" y2="375.95" stroke="#555" stroke-width="0.8"/>
<text x="19.2" y="378.15" font-size="6.2" text-anchor="end">5</text>
<line x1="21" y1="362.11" x2="24" y2="362.11" stroke="#555" stroke-width="0.8"/>
<text x="19.2" y="364.31" font-size="6.2" text-anchor="end">10</text>
<line x1="21" y1="348.26" x2="24" y2="348.26" stroke="#555" stroke-width="0.8"/>
<text x="19.2" y="350.46" font-size="6.2" text-anchor="end">15</text>
<line x1="21" y1="334.42" x2="24" y2="334.42" stroke="#555" stroke-width="0.8"/>
<text x="19.2" y="336.62" font-size="6.2" text-anchor="end">20</text>
<line x1="21" y1="320.57" x2="24" y2="320.57" stroke="#555" stroke-width="0.8"/>
<text x="19.2" y="322.77" font-size="6.2" text-anchor="end">25</text>
<text transform="translate(7.3,369.40) rotate(-90)" font-size="6.5" text-anchor="middle" textLength="38.2" lengthAdjust="spacingAndGlyphs">DFA (degree)</text>
<path d="M59.5,425.40 V422.40 H130.4 V425.40" stroke="#444" stroke-width="1" fill="none"/>
<text x="59.5" y="431.70" font-size="6.5" text-anchor="middle" textLength="18.4" lengthAdjust="spacingAndGlyphs">Manual</text>
<text x="130.4" y="431.70" font-size="6.5" text-anchor="middle" textLength="29.0" lengthAdjust="spacingAndGlyphs">Meta-model</text>
<path d="M59.50,322.60 L58.70,322.60 C58.65,325.60 58.68,336.84 58.40,340.63 C58.12,344.42 57.67,343.79 57.00,345.34 C56.33,346.89 55.67,348.40 54.40,349.95 C53.13,351.50 51.30,353.11 49.40,354.66 C47.50,356.22 45.12,357.72 43.00,359.27 C40.88,360.83 38.52,362.43 36.70,363.98 C34.88,365.54 33.00,367.45 32.10,368.59 C31.20,369.74 31.30,369.94 31.30,370.85 C31.30,371.75 31.10,372.73 32.10,374.02 C33.10,375.32 35.23,377.08 37.30,378.63 C39.37,380.19 42.23,381.79 44.50,383.35 C46.77,384.90 49.17,386.40 50.90,387.96 C52.63,389.51 53.78,391.11 54.90,392.67 C56.02,394.22 57.02,395.71 57.60,397.28 C58.18,398.85 58.22,398.78 58.40,402.09 C58.58,405.41 58.65,414.64 58.70,417.15 L59.50,417.15 Z" fill="#c9cee7" stroke="#767a90" stroke-opacity="0.55" stroke-width="0.45"/>
<path d="M130.40,320.16 L129.60,320.16 C129.55,323.34 129.53,335.14 129.30,339.22 C129.07,343.30 128.77,342.97 128.20,344.65 C127.63,346.32 126.97,347.70 125.90,349.26 C124.83,350.81 123.55,352.42 121.80,353.97 C120.05,355.52 117.53,357.03 115.40,358.58 C113.27,360.13 110.82,361.74 109.00,363.29 C107.18,364.85 105.70,366.45 104.50,367.90 C103.30,369.35 102.20,371.06 101.80,372.00 C101.40,372.94 101.20,372.55 102.10,373.54 C103.00,374.53 105.13,376.42 107.20,377.94 C109.27,379.46 112.45,381.10 114.50,382.65 C116.55,384.21 117.98,385.71 119.50,387.26 C121.02,388.82 122.38,390.42 123.60,391.98 C124.82,393.53 125.90,394.79 126.80,396.59 C127.70,398.38 128.53,399.08 129.00,402.73 C129.47,406.39 129.50,415.88 129.60,418.51 L130.40,418.51 Z" fill="#d4efc9" stroke="#767a90" stroke-opacity="0.55" stroke-width="0.45"/>
<g stroke="#43509f" stroke-width="0.9" fill="none">
<rect x="50.50" y="363.68" width="18.00" height="13.52"/>
<line x1="50.50" y1="370.95" x2="68.50" y2="370.95"/>
<line x1="59.50" y1="342.78" x2="59.50" y2="363.68"/>
<line x1="59.50" y1="377.20" x2="59.50" y2="398.00"/>
<line x1="55.00" y1="342.78" x2="64.00" y2="342.78"/>
<line x1="55.00" y1="398.00" x2="64.00" y2="398.00"/>
</g>
<g stroke="#70c852" stroke-width="0.9" fill="none">
<rect x="121.40" y="363.60" width="18.00" height="13.40"/>
<line x1="121.40" y1="370.20" x2="139.40" y2="370.20"/>
<line x1="130.40" y1="344.80" x2="130.40" y2="363.60"/>
<line x1="130.40" y1="377.00" x2="130.40" y2="397.20"/>
<line x1="125.90" y1="344.80" x2="134.90" y2="344.80"/>
<line x1="125.90" y1="397.20" x2="134.90" y2="397.20"/>
</g>
<circle cx="63.93" cy="397.90" r="1.1" fill="#42509f" fill-opacity="0.72"/>
<circle cx="139.64" cy="401.85" r="1.1" fill="#5fbc45" fill-opacity="0.72"/>
<circle cx="68.73" cy="387.64" r="1.1" fill="#42509f" fill-opacity="0.72"/>
<circle cx="141.50" cy="390.89" r="1.1" fill="#5fbc45" fill-opacity="0.72"/>
<circle cx="63.10" cy="385.10" r="1.1" fill="#42509f" fill-opacity="0.72"/>
<circle cx="134.51" cy="388.35" r="1.1" fill="#5fbc45" fill-opacity="0.72"/>
<circle cx="62.66" cy="383.24" r="1.1" fill="#42509f" fill-opacity="0.72"/>
<circle cx="134.44" cy="387.28" r="1.1" fill="#5fbc45" fill-opacity="0.72"/>
<circle cx="69.29" cy="388.19" r="1.1" fill="#42509f" fill-opacity="0.72"/>
<circle cx="133.37" cy="390.64" r="1.1" fill="#5fbc45" fill-opacity="0.72"/>
<circle cx="67.00" cy="396.75" r="1.1" fill="#42509f" fill-opacity="0.72"/>
<circle cx="134.32" cy="398.08" r="1.1" fill="#5fbc45" fill-opacity="0.72"/>
<circle cx="64.33" cy="418.23" r="1.1" fill="#42509f" fill-opacity="0.72"/>
<circle cx="136.78" cy="418.13" r="1.1" fill="#5fbc45" fill-opacity="0.72"/>
<circle cx="70.47" cy="397.57" r="1.1" fill="#42509f" fill-opacity="0.72"/>
<circle cx="138.77" cy="397.26" r="1.1" fill="#5fbc45" fill-opacity="0.72"/>
<circle cx="61.16" cy="388.33" r="1.1" fill="#42509f" fill-opacity="0.72"/>
<circle cx="135.02" cy="388.80" r="1.1" fill="#5fbc45" fill-opacity="0.72"/>
<circle cx="62.66" cy="391.07" r="1.1" fill="#42509f" fill-opacity="0.72"/>
<circle cx="141.75" cy="387.76" r="1.1" fill="#5fbc45" fill-opacity="0.72"/>
<circle cx="70.15" cy="391.32" r="1.1" fill="#42509f" fill-opacity="0.72"/>
<circle cx="141.01" cy="387.51" r="1.1" fill="#5fbc45" fill-opacity="0.72"/>
<circle cx="70.34" cy="387.14" r="1.1" fill="#42509f" fill-opacity="0.72"/>
<circle cx="140.32" cy="384.15" r="1.1" fill="#5fbc45" fill-opacity="0.72"/>
<circle cx="71.73" cy="359.22" r="1.1" fill="#42509f" fill-opacity="0.72"/>
<circle cx="140.87" cy="364.69" r="1.1" fill="#5fbc45" fill-opacity="0.72"/>
<circle cx="63.90" cy="363.70" r="1.1" fill="#42509f" fill-opacity="0.72"/>
<circle cx="141.50" cy="368.52" r="1.1" fill="#5fbc45" fill-opacity="0.72"/>
<circle cx="66.50" cy="382.17" r="1.1" fill="#42509f" fill-opacity="0.72"/>
<circle cx="140.43" cy="386.20" r="1.1" fill="#5fbc45" fill-opacity="0.72"/>
<circle cx="67.37" cy="378.02" r="1.1" fill="#42509f" fill-opacity="0.72"/>
<circle cx="136.75" cy="382.19" r="1.1" fill="#5fbc45" fill-opacity="0.72"/>
<circle cx="65.12" cy="374.28" r="1.1" fill="#42509f" fill-opacity="0.72"/>
<circle cx="136.76" cy="378.71" r="1.1" fill="#5fbc45" fill-opacity="0.72"/>
<circle cx="64.55" cy="373.67" r="1.1" fill="#42509f" fill-opacity="0.72"/>
<circle cx="133.23" cy="377.78" r="1.1" fill="#5fbc45" fill-opacity="0.72"/>
<circle cx="70.26" cy="369.86" r="1.1" fill="#42509f" fill-opacity="0.72"/>
<circle cx="140.92" cy="373.29" r="1.1" fill="#5fbc45" fill-opacity="0.72"/>
<circle cx="72.14" cy="366.60" r="1.1" fill="#42509f" fill-opacity="0.72"/>
<circle cx="139.71" cy="370.38" r="1.1" fill="#5fbc45" fill-opacity="0.72"/>
<circle cx="67.26" cy="363.37" r="1.1" fill="#42509f" fill-opacity="0.72"/>
<circle cx="140.36" cy="367.15" r="1.1" fill="#5fbc45" fill-opacity="0.72"/>
<circle cx="62.52" cy="359.94" r="1.1" fill="#42509f" fill-opacity="0.72"/>
<circle cx="139.55" cy="363.98" r="1.1" fill="#5fbc45" fill-opacity="0.72"/>
<circle cx="66.01" cy="352.26" r="1.1" fill="#42509f" fill-opacity="0.72"/>
<circle cx="133.90" cy="355.50" r="1.1" fill="#5fbc45" fill-opacity="0.72"/>
<circle cx="63.29" cy="384.79" r="1.1" fill="#42509f" fill-opacity="0.72"/>
<circle cx="137.81" cy="388.04" r="1.1" fill="#5fbc45" fill-opacity="0.72"/>
<circle cx="63.86" cy="382.38" r="1.1" fill="#42509f" fill-opacity="0.72"/>
<circle cx="137.09" cy="385.37" r="1.1" fill="#5fbc45" fill-opacity="0.72"/>
<circle cx="67.84" cy="380.09" r="1.1" fill="#42509f" fill-opacity="0.72"/>
<circle cx="136.37" cy="382.90" r="1.1" fill="#5fbc45" fill-opacity="0.72"/>
<circle cx="62.48" cy="375.66" r="1.1" fill="#42509f" fill-opacity="0.72"/>
<circle cx="137.45" cy="378.56" r="1.1" fill="#5fbc45" fill-opacity="0.72"/>
<circle cx="63.66" cy="372.40" r="1.1" fill="#42509f" fill-opacity="0.72"/>
<circle cx="134.56" cy="375.20" r="1.1" fill="#5fbc45" fill-opacity="0.72"/>
<circle cx="63.20" cy="366.71" r="1.1" fill="#42509f" fill-opacity="0.72"/>
<circle cx="136.04" cy="369.51" r="1.1" fill="#5fbc45" fill-opacity="0.72"/>
<circle cx="61.83" cy="364.82" r="1.1" fill="#42509f" fill-opacity="0.72"/>
<circle cx="139.26" cy="367.40" r="1.1" fill="#5fbc45" fill-opacity="0.72"/>
<circle cx="71.78" cy="360.32" r="1.1" fill="#42509f" fill-opacity="0.72"/>
<circle cx="136.30" cy="363.13" r="1.1" fill="#5fbc45" fill-opacity="0.72"/>
<circle cx="69.12" cy="378.40" r="1.1" fill="#42509f" fill-opacity="0.72"/>
<circle cx="142.44" cy="381.20" r="1.1" fill="#5fbc45" fill-opacity="0.72"/>
<circle cx="61.49" cy="369.87" r="1.1" fill="#42509f" fill-opacity="0.72"/>
<circle cx="133.50" cy="373.27" r="1.1" fill="#5fbc45" fill-opacity="0.72"/>
<circle cx="70.11" cy="382.17" r="1.1" fill="#42509f" fill-opacity="0.72"/>
<circle cx="141.37" cy="384.05" r="1.1" fill="#5fbc45" fill-opacity="0.72"/>
<circle cx="68.22" cy="378.32" r="1.1" fill="#42509f" fill-opacity="0.72"/>
<circle cx="133.71" cy="380.21" r="1.1" fill="#5fbc45" fill-opacity="0.72"/>
<circle cx="65.67" cy="375.38" r="1.1" fill="#42509f" fill-opacity="0.72"/>
<circle cx="141.71" cy="377.60" r="1.1" fill="#5fbc45" fill-opacity="0.72"/>
<circle cx="71.01" cy="371.82" r="1.1" fill="#42509f" fill-opacity="0.72"/>
<circle cx="140.98" cy="373.63" r="1.1" fill="#5fbc45" fill-opacity="0.72"/>
<circle cx="63.29" cy="370.49" r="1.1" fill="#42509f" fill-opacity="0.72"/>
<circle cx="141.55" cy="372.65" r="1.1" fill="#5fbc45" fill-opacity="0.72"/>
<circle cx="65.23" cy="363.59" r="1.1" fill="#42509f" fill-opacity="0.72"/>
<circle cx="140.00" cy="365.40" r="1.1" fill="#5fbc45" fill-opacity="0.72"/>
<circle cx="62.55" cy="360.54" r="1.1" fill="#42509f" fill-opacity="0.72"/>
<circle cx="142.88" cy="361.84" r="1.1" fill="#5fbc45" fill-opacity="0.72"/>
<circle cx="67.82" cy="350.83" r="1.1" fill="#42509f" fill-opacity="0.72"/>
<circle cx="140.07" cy="351.85" r="1.1" fill="#5fbc45" fill-opacity="0.72"/>
<circle cx="63.39" cy="375.31" r="1.1" fill="#42509f" fill-opacity="0.72"/>
<circle cx="138.87" cy="376.60" r="1.1" fill="#5fbc45" fill-opacity="0.72"/>
<circle cx="67.56" cy="372.68" r="1.1" fill="#42509f" fill-opacity="0.72"/>
<circle cx="138.58" cy="373.85" r="1.1" fill="#5fbc45" fill-opacity="0.72"/>
<circle cx="65.06" cy="369.37" r="1.1" fill="#42509f" fill-opacity="0.72"/>
<circle cx="140.12" cy="370.54" r="1.1" fill="#5fbc45" fill-opacity="0.72"/>
<circle cx="64.86" cy="363.37" r="1.1" fill="#42509f" fill-opacity="0.72"/>
<circle cx="135.24" cy="364.54" r="1.1" fill="#5fbc45" fill-opacity="0.72"/>
<circle cx="62.86" cy="383.17" r="1.1" fill="#42509f" fill-opacity="0.72"/>
<circle cx="139.63" cy="384.12" r="1.1" fill="#5fbc45" fill-opacity="0.72"/>
<circle cx="62.27" cy="376.69" r="1.1" fill="#42509f" fill-opacity="0.72"/>
<circle cx="134.45" cy="377.53" r="1.1" fill="#5fbc45" fill-opacity="0.72"/>
<circle cx="61.78" cy="371.23" r="1.1" fill="#42509f" fill-opacity="0.72"/>
<circle cx="139.17" cy="371.92" r="1.1" fill="#5fbc45" fill-opacity="0.72"/>
<circle cx="67.28" cy="368.69" r="1.1" fill="#42509f" fill-opacity="0.72"/>
<circle cx="138.04" cy="369.07" r="1.1" fill="#5fbc45" fill-opacity="0.72"/>
<circle cx="61.44" cy="365.32" r="1.1" fill="#42509f" fill-opacity="0.72"/>
<circle cx="136.87" cy="365.82" r="1.1" fill="#5fbc45" fill-opacity="0.72"/>
<circle cx="64.88" cy="362.01" r="1.1" fill="#42509f" fill-opacity="0.72"/>
<circle cx="132.95" cy="362.52" r="1.1" fill="#5fbc45" fill-opacity="0.72"/>
<circle cx="61.03" cy="358.72" r="1.1" fill="#42509f" fill-opacity="0.72"/>
<circle cx="143.18" cy="359.35" r="1.1" fill="#5fbc45" fill-opacity="0.72"/>
<circle cx="62.37" cy="354.93" r="1.1" fill="#42509f" fill-opacity="0.72"/>
<circle cx="135.31" cy="355.44" r="1.1" fill="#5fbc45" fill-opacity="0.72"/>
<circle cx="64.04" cy="352.83" r="1.1" fill="#42509f" fill-opacity="0.72"/>
<circle cx="138.65" cy="353.08" r="1.1" fill="#5fbc45" fill-opacity="0.72"/>
<circle cx="61.87" cy="384.80" r="1.1" fill="#42509f" fill-opacity="0.72"/>
<circle cx="137.21" cy="384.65" r="1.1" fill="#5fbc45" fill-opacity="0.72"/>
<circle cx="65.14" cy="380.07" r="1.1" fill="#42509f" fill-opacity="0.72"/>
<circle cx="141.33" cy="379.53" r="1.1" fill="#5fbc45" fill-opacity="0.72"/>
<circle cx="61.06" cy="376.83" r="1.1" fill="#42509f" fill-opacity="0.72"/>
<circle cx="135.68" cy="376.16" r="1.1" fill="#5fbc45" fill-opacity="0.72"/>
<circle cx="66.61" cy="371.84" r="1.1" fill="#42509f" fill-opacity="0.72"/>
<circle cx="142.86" cy="371.30" r="1.1" fill="#5fbc45" fill-opacity="0.72"/>
<circle cx="66.84" cy="366.86" r="1.1" fill="#42509f" fill-opacity="0.72"/>
<circle cx="137.26" cy="366.44" r="1.1" fill="#5fbc45" fill-opacity="0.72"/>
<circle cx="68.57" cy="362.00" r="1.1" fill="#42509f" fill-opacity="0.72"/>
<circle cx="135.25" cy="361.45" r="1.1" fill="#5fbc45" fill-opacity="0.72"/>
<circle cx="61.36" cy="357.74" r="1.1" fill="#42509f" fill-opacity="0.72"/>
<circle cx="137.57" cy="356.94" r="1.1" fill="#5fbc45" fill-opacity="0.72"/>
<circle cx="71.29" cy="379.39" r="1.1" fill="#42509f" fill-opacity="0.72"/>
<circle cx="140.24" cy="378.06" r="1.1" fill="#5fbc45" fill-opacity="0.72"/>
<circle cx="63.92" cy="376.02" r="1.1" fill="#42509f" fill-opacity="0.72"/>
<circle cx="139.63" cy="374.81" r="1.1" fill="#5fbc45" fill-opacity="0.72"/>
<circle cx="70.60" cy="372.24" r="1.1" fill="#42509f" fill-opacity="0.72"/>
<circle cx="134.82" cy="370.90" r="1.1" fill="#5fbc45" fill-opacity="0.72"/>
<circle cx="67.64" cy="369.34" r="1.1" fill="#42509f" fill-opacity="0.72"/>
<circle cx="135.92" cy="368.41" r="1.1" fill="#5fbc45" fill-opacity="0.72"/>
<circle cx="63.76" cy="365.64" r="1.1" fill="#42509f" fill-opacity="0.72"/>
<circle cx="135.15" cy="364.43" r="1.1" fill="#5fbc45" fill-opacity="0.72"/>
<circle cx="63.30" cy="361.32" r="1.1" fill="#42509f" fill-opacity="0.72"/>
<circle cx="135.86" cy="359.98" r="1.1" fill="#5fbc45" fill-opacity="0.72"/>
<circle cx="61.43" cy="382.42" r="1.1" fill="#42509f" fill-opacity="0.72"/>
<circle cx="136.39" cy="380.57" r="1.1" fill="#5fbc45" fill-opacity="0.72"/>
<circle cx="61.98" cy="377.97" r="1.1" fill="#42509f" fill-opacity="0.72"/>
<circle cx="140.47" cy="376.25" r="1.1" fill="#5fbc45" fill-opacity="0.72"/>
<circle cx="67.78" cy="374.79" r="1.1" fill="#42509f" fill-opacity="0.72"/>
<circle cx="131.95" cy="372.81" r="1.1" fill="#5fbc45" fill-opacity="0.72"/>
<circle cx="69.74" cy="371.42" r="1.1" fill="#42509f" fill-opacity="0.72"/>
<circle cx="134.05" cy="369.57" r="1.1" fill="#5fbc45" fill-opacity="0.72"/>
<circle cx="66.43" cy="363.19" r="1.1" fill="#42509f" fill-opacity="0.72"/>
<circle cx="138.17" cy="361.34" r="1.1" fill="#5fbc45" fill-opacity="0.72"/>
<circle cx="64.76" cy="359.89" r="1.1" fill="#42509f" fill-opacity="0.72"/>
<circle cx="135.17" cy="358.17" r="1.1" fill="#5fbc45" fill-opacity="0.72"/>
<circle cx="65.92" cy="383.29" r="1.1" fill="#42509f" fill-opacity="0.72"/>
<circle cx="133.45" cy="380.78" r="1.1" fill="#5fbc45" fill-opacity="0.72"/>
<circle cx="70.76" cy="378.36" r="1.1" fill="#42509f" fill-opacity="0.72"/>
<circle cx="133.16" cy="375.85" r="1.1" fill="#5fbc45" fill-opacity="0.72"/>
<circle cx="70.31" cy="370.13" r="1.1" fill="#42509f" fill-opacity="0.72"/>
<circle cx="134.37" cy="367.62" r="1.1" fill="#5fbc45" fill-opacity="0.72"/>
<circle cx="64.43" cy="367.43" r="1.1" fill="#42509f" fill-opacity="0.72"/>
<circle cx="136.29" cy="364.79" r="1.1" fill="#5fbc45" fill-opacity="0.72"/>
<circle cx="61.38" cy="362.98" r="1.1" fill="#42509f" fill-opacity="0.72"/>
<circle cx="133.35" cy="360.47" r="1.1" fill="#5fbc45" fill-opacity="0.72"/>
<circle cx="65.08" cy="386.24" r="1.1" fill="#42509f" fill-opacity="0.72"/>
<circle cx="136.89" cy="383.21" r="1.1" fill="#5fbc45" fill-opacity="0.72"/>
<circle cx="70.90" cy="381.34" r="1.1" fill="#42509f" fill-opacity="0.72"/>
<circle cx="143.09" cy="378.26" r="1.1" fill="#5fbc45" fill-opacity="0.72"/>
<circle cx="61.49" cy="378.12" r="1.1" fill="#42509f" fill-opacity="0.72"/>
<circle cx="137.95" cy="374.87" r="1.1" fill="#5fbc45" fill-opacity="0.72"/>
<circle cx="62.46" cy="374.80" r="1.1" fill="#42509f" fill-opacity="0.72"/>
<circle cx="140.98" cy="371.72" r="1.1" fill="#5fbc45" fill-opacity="0.72"/>
<circle cx="64.65" cy="368.77" r="1.1" fill="#42509f" fill-opacity="0.72"/>
<circle cx="141.99" cy="365.60" r="1.1" fill="#5fbc45" fill-opacity="0.72"/>
<circle cx="67.16" cy="366.12" r="1.1" fill="#42509f" fill-opacity="0.72"/>
<circle cx="133.32" cy="362.87" r="1.1" fill="#5fbc45" fill-opacity="0.72"/>
<circle cx="61.06" cy="351.73" r="1.1" fill="#42509f" fill-opacity="0.72"/>
<circle cx="134.70" cy="349.88" r="1.1" fill="#5fbc45" fill-opacity="0.72"/>
<circle cx="70.81" cy="386.07" r="1.1" fill="#42509f" fill-opacity="0.72"/>
<circle cx="133.59" cy="382.30" r="1.1" fill="#5fbc45" fill-opacity="0.72"/>
<circle cx="66.41" cy="375.08" r="1.1" fill="#42509f" fill-opacity="0.72"/>
<circle cx="136.10" cy="371.45" r="1.1" fill="#5fbc45" fill-opacity="0.72"/>
<circle cx="64.90" cy="359.80" r="1.1" fill="#42509f" fill-opacity="0.72"/>
<circle cx="140.96" cy="355.96" r="1.1" fill="#5fbc45" fill-opacity="0.72"/>
<circle cx="63.42" cy="355.36" r="1.1" fill="#42509f" fill-opacity="0.72"/>
<circle cx="140.02" cy="350.55" r="1.1" fill="#5fbc45" fill-opacity="0.72"/>
<circle cx="68.53" cy="366.68" r="1.1" fill="#42509f" fill-opacity="0.72"/>
<circle cx="142.47" cy="361.23" r="1.1" fill="#5fbc45" fill-opacity="0.72"/>
<circle cx="66.87" cy="377.40" r="1.1" fill="#42509f" fill-opacity="0.72"/>
<circle cx="142.30" cy="371.28" r="1.1" fill="#5fbc45" fill-opacity="0.72"/>
<circle cx="65.98" cy="340.49" r="1.1" fill="#42509f" fill-opacity="0.72"/>
<circle cx="138.38" cy="341.12" r="1.1" fill="#5fbc45" fill-opacity="0.72"/>
<circle cx="68.01" cy="328.77" r="1.1" fill="#42509f" fill-opacity="0.72"/>
<circle cx="141.39" cy="329.46" r="1.1" fill="#5fbc45" fill-opacity="0.72"/>
<circle cx="71.14" cy="321.19" r="1.1" fill="#42509f" fill-opacity="0.72"/>
<circle cx="133.20" cy="321.66" r="1.1" fill="#5fbc45" fill-opacity="0.72"/>
<circle cx="62.55" cy="345.02" r="1.1" fill="#42509f" fill-opacity="0.72"/>
<circle cx="137.93" cy="343.82" r="1.1" fill="#5fbc45" fill-opacity="0.72"/>
<circle cx="70.18" cy="331.43" r="1.1" fill="#42509f" fill-opacity="0.72"/>
<circle cx="137.93" cy="330.02" r="1.1" fill="#5fbc45" fill-opacity="0.72"/>
<circle cx="64.38" cy="351.40" r="1.1" fill="#42509f" fill-opacity="0.72"/>
<circle cx="142.77" cy="349.59" r="1.1" fill="#5fbc45" fill-opacity="0.72"/>
<circle cx="64.37" cy="329.34" r="1.1" fill="#42509f" fill-opacity="0.72"/>
<circle cx="132.88" cy="327.35" r="1.1" fill="#5fbc45" fill-opacity="0.72"/>
<circle cx="61.59" cy="344.54" r="1.1" fill="#42509f" fill-opacity="0.72"/>
<circle cx="132.24" cy="342.14" r="1.1" fill="#5fbc45" fill-opacity="0.72"/>
<circle cx="69.21" cy="350.81" r="1.1" fill="#42509f" fill-opacity="0.72"/>
<circle cx="133.11" cy="347.87" r="1.1" fill="#5fbc45" fill-opacity="0.72"/>
<circle cx="69.09" cy="328.83" r="1.1" fill="#42509f" fill-opacity="0.72"/>
<circle cx="141.69" cy="324.94" r="1.1" fill="#5fbc45" fill-opacity="0.72"/>
<circle cx="72.30" cy="371.54" r="1.1" fill="#42509f" fill-opacity="0.72"/>
<circle cx="141.04" cy="372.76" r="1.1" fill="#5fbc45" fill-opacity="0.72"/>
<circle cx="65.80" cy="374.26" r="1.1" fill="#42509f" fill-opacity="0.72"/>
<circle cx="138.93" cy="373.07" r="1.1" fill="#5fbc45" fill-opacity="0.72"/>
<circle cx="70.41" cy="364.11" r="1.1" fill="#42509f" fill-opacity="0.72"/>
<circle cx="139.99" cy="363.09" r="1.1" fill="#5fbc45" fill-opacity="0.72"/>
<circle cx="64.28" cy="368.94" r="1.1" fill="#42509f" fill-opacity="0.72"/>
<circle cx="140.51" cy="369.28" r="1.1" fill="#5fbc45" fill-opacity="0.72"/>
<circle cx="62.24" cy="378.78" r="1.1" fill="#42509f" fill-opacity="0.72"/>
<circle cx="135.39" cy="379.36" r="1.1" fill="#5fbc45" fill-opacity="0.72"/>
<circle cx="72.26" cy="371.02" r="1.1" fill="#42509f" fill-opacity="0.72"/>
<circle cx="137.22" cy="371.11" r="1.1" fill="#5fbc45" fill-opacity="0.72"/>
<circle cx="64.03" cy="376.68" r="1.1" fill="#42509f" fill-opacity="0.72"/>
<circle cx="140.77" cy="375.39" r="1.1" fill="#5fbc45" fill-opacity="0.72"/>
<circle cx="66.09" cy="370.36" r="1.1" fill="#42509f" fill-opacity="0.72"/>
<circle cx="131.94" cy="372.29" r="1.1" fill="#5fbc45" fill-opacity="0.72"/>
<circle cx="61.33" cy="368.61" r="1.1" fill="#42509f" fill-opacity="0.72"/>
<circle cx="134.83" cy="370.36" r="1.1" fill="#5fbc45" fill-opacity="0.72"/>
<circle cx="64.75" cy="360.53" r="1.1" fill="#42509f" fill-opacity="0.72"/>
<circle cx="142.49" cy="359.47" r="1.1" fill="#5fbc45" fill-opacity="0.72"/>
<circle cx="63.79" cy="375.63" r="1.1" fill="#42509f" fill-opacity="0.72"/>
<circle cx="141.51" cy="374.98" r="1.1" fill="#5fbc45" fill-opacity="0.72"/>
<circle cx="70.64" cy="370.51" r="1.1" fill="#42509f" fill-opacity="0.72"/>
<circle cx="136.60" cy="371.15" r="1.1" fill="#5fbc45" fill-opacity="0.72"/>
<circle cx="72.22" cy="375.04" r="1.1" fill="#42509f" fill-opacity="0.72"/>
<circle cx="140.51" cy="374.31" r="1.1" fill="#5fbc45" fill-opacity="0.72"/>
<circle cx="66.47" cy="365.55" r="1.1" fill="#42509f" fill-opacity="0.72"/>
<circle cx="134.85" cy="363.80" r="1.1" fill="#5fbc45" fill-opacity="0.72"/>
<circle cx="66.21" cy="371.08" r="1.1" fill="#42509f" fill-opacity="0.72"/>
<circle cx="142.09" cy="368.53" r="1.1" fill="#5fbc45" fill-opacity="0.72"/>
<circle cx="67.06" cy="367.08" r="1.1" fill="#42509f" fill-opacity="0.72"/>
<circle cx="134.09" cy="364.27" r="1.1" fill="#5fbc45" fill-opacity="0.72"/>
<circle cx="65.24" cy="372.92" r="1.1" fill="#42509f" fill-opacity="0.72"/>
<circle cx="137.28" cy="370.73" r="1.1" fill="#5fbc45" fill-opacity="0.72"/>
<circle cx="63.16" cy="373.75" r="1.1" fill="#42509f" fill-opacity="0.72"/>
<circle cx="138.37" cy="369.94" r="1.1" fill="#5fbc45" fill-opacity="0.72"/>
<circle cx="61.39" cy="365.69" r="1.1" fill="#42509f" fill-opacity="0.72"/>
<circle cx="141.18" cy="364.87" r="1.1" fill="#5fbc45" fill-opacity="0.72"/>
<circle cx="63.02" cy="368.77" r="1.1" fill="#42509f" fill-opacity="0.72"/>
<circle cx="133.06" cy="371.12" r="1.1" fill="#5fbc45" fill-opacity="0.72"/>
<circle cx="67.65" cy="368.58" r="1.1" fill="#42509f" fill-opacity="0.72"/>
<circle cx="135.37" cy="368.31" r="1.1" fill="#5fbc45" fill-opacity="0.72"/>
<circle cx="71.00" cy="379.58" r="1.1" fill="#42509f" fill-opacity="0.72"/>
<circle cx="137.52" cy="378.86" r="1.1" fill="#5fbc45" fill-opacity="0.72"/>
<circle cx="66.89" cy="367.21" r="1.1" fill="#42509f" fill-opacity="0.72"/>
<circle cx="141.33" cy="366.26" r="1.1" fill="#5fbc45" fill-opacity="0.72"/>
<circle cx="63.42" cy="367.25" r="1.1" fill="#42509f" fill-opacity="0.72"/>
<circle cx="140.32" cy="368.68" r="1.1" fill="#5fbc45" fill-opacity="0.72"/>
<circle cx="68.33" cy="385.68" r="1.1" fill="#42509f" fill-opacity="0.72"/>
<circle cx="136.74" cy="380.90" r="1.1" fill="#5fbc45" fill-opacity="0.72"/>
<circle cx="71.84" cy="376.91" r="1.1" fill="#42509f" fill-opacity="0.72"/>
<circle cx="132.15" cy="373.42" r="1.1" fill="#5fbc45" fill-opacity="0.72"/>
<circle cx="70.74" cy="364.61" r="1.1" fill="#42509f" fill-opacity="0.72"/>
<circle cx="133.52" cy="364.46" r="1.1" fill="#5fbc45" fill-opacity="0.72"/>
<rect x="209.00" y="316.90" width="141.50" height="105.20" fill="none" stroke="#3c3c3c" stroke-width="1.3"/>
<line x1="205.5" y1="414.70" x2="209.00" y2="414.70" stroke="#555" stroke-width="0.8"/>
<text x="203.6" y="416.90" font-size="6.2" text-anchor="end">-3</text>
<line x1="205.5" y1="399.65" x2="209.00" y2="399.65" stroke="#555" stroke-width="0.8"/>
<text x="203.6" y="401.85" font-size="6.2" text-anchor="end">-2</text>
<line x1="205.5" y1="384.60" x2="209.00" y2="384.60" stroke="#555" stroke-width="0.8"/>
<text x="203.6" y="386.80" font-size="6.2" text-anchor="end">-1</text>
<line x1="205.5" y1="369.55" x2="209.00" y2="369.55" stroke="#555" stroke-width="0.8"/>
<text x="203.6" y="371.75" font-size="6.2" text-anchor="end">0</text>
<line x1="205.5" y1="354.50" x2="209.00" y2="354.50" stroke="#555" stroke-width="0.8"/>
<text x="203.6" y="356.70" font-size="6.2" text-anchor="end">1</text>
<line x1="205.5" y1="339.45" x2="209.00" y2="339.45" stroke="#555" stroke-width="0.8"/>
<text x="203.6" y="341.65" font-size="6.2" text-anchor="end">2</text>
<line x1="205.5" y1="324.40" x2="209.00" y2="324.40" stroke="#555" stroke-width="0.8"/>
<text x="203.6" y="326.60" font-size="6.2" text-anchor="end">3</text>
<line x1="216.70" y1="422.10" x2="216.70" y2="425.10" stroke="#555" stroke-width="0.8"/>
<text x="216.70" y="431.80" font-size="6.2" text-anchor="middle">-10</text>
<line x1="234.70" y1="422.10" x2="234.70" y2="425.10" stroke="#555" stroke-width="0.8"/>
<text x="234.70" y="431.80" font-size="6.2" text-anchor="middle">-5</text>
<line x1="252.70" y1="422.10" x2="252.70" y2="425.10" stroke="#555" stroke-width="0.8"/>
<text x="252.70" y="431.80" font-size="6.2" text-anchor="middle">0</text>
<line x1="270.70" y1="422.10" x2="270.70" y2="425.10" stroke="#555" stroke-width="0.8"/>
<text x="270.70" y="431.80" font-size="6.2" text-anchor="middle">5</text>
<line x1="288.70" y1="422.10" x2="288.70" y2="425.10" stroke="#555" stroke-width="0.8"/>
<text x="288.70" y="431.80" font-size="6.2" text-anchor="middle">10</text>
<line x1="306.70" y1="422.10" x2="306.70" y2="425.10" stroke="#555" stroke-width="0.8"/>
<text x="306.70" y="431.80" font-size="6.2" text-anchor="middle">15</text>
<line x1="324.70" y1="422.10" x2="324.70" y2="425.10" stroke="#555" stroke-width="0.8"/>
<text x="324.70" y="431.80" font-size="6.2" text-anchor="middle">20</text>
<line x1="342.70" y1="422.10" x2="342.70" y2="425.10" stroke="#555" stroke-width="0.8"/>
<text x="342.70" y="431.80" font-size="6.2" text-anchor="middle">25</text>
<text x="279.7" y="439.30" font-size="6.5" text-anchor="middle" textLength="41" lengthAdjust="spacingAndGlyphs">Mean (degree)</text>
<text transform="translate(195.3,369.30) rotate(-90)" font-size="6.5" text-anchor="middle" textLength="55" lengthAdjust="spacingAndGlyphs">Difference (degree)</text>
<line x1="215.80" y1="344.50" x2="341.60" y2="344.50" stroke="#7ddc3f" stroke-width="1.4" stroke-dasharray="3,1.27"/>
<line x1="215.80" y1="395.20" x2="341.60" y2="395.20" stroke="#7ddc3f" stroke-width="1.4" stroke-dasharray="3,1.27"/>
<line x1="215.80" y1="369.90" x2="341.60" y2="369.90" stroke="#86dc5a" stroke-width="1.8"/>
<circle cx="239.60" cy="348.10" r="1.65" fill="none" stroke="#6170bf" stroke-width="0.7"/>
<circle cx="253.40" cy="351.90" r="1.65" fill="none" stroke="#6170bf" stroke-width="0.7"/>
<circle cx="256.70" cy="351.90" r="1.65" fill="none" stroke="#6170bf" stroke-width="0.7"/>
<circle cx="258.60" cy="347.60" r="1.65" fill="none" stroke="#6170bf" stroke-width="0.7"/>
<circle cx="253.20" cy="356.20" r="1.65" fill="none" stroke="#6170bf" stroke-width="0.7"/>
<circle cx="242.80" cy="362.30" r="1.65" fill="none" stroke="#6170bf" stroke-width="0.7"/>
<circle cx="215.80" cy="370.10" r="1.65" fill="none" stroke="#6170bf" stroke-width="0.7"/>
<circle cx="242.80" cy="371.20" r="1.65" fill="none" stroke="#6170bf" stroke-width="0.7"/>
<circle cx="254.30" cy="367.00" r="1.65" fill="none" stroke="#6170bf" stroke-width="0.7"/>
<circle cx="253.20" cy="387.50" r="1.65" fill="none" stroke="#6170bf" stroke-width="0.7"/>
<circle cx="253.20" cy="390.30" r="1.65" fill="none" stroke="#6170bf" stroke-width="0.7"/>
<circle cx="258.10" cy="385.80" r="1.65" fill="none" stroke="#6170bf" stroke-width="0.7"/>
<circle cx="288.90" cy="339.80" r="1.65" fill="none" stroke="#6170bf" stroke-width="0.7"/>
<circle cx="283.50" cy="343.40" r="1.65" fill="none" stroke="#6170bf" stroke-width="0.7"/>
<circle cx="260.00" cy="347.60" r="1.65" fill="none" stroke="#6170bf" stroke-width="0.7"/>
<circle cx="265.30" cy="346.90" r="1.65" fill="none" stroke="#6170bf" stroke-width="0.7"/>
<circle cx="270.00" cy="345.50" r="1.65" fill="none" stroke="#6170bf" stroke-width="0.7"/>
<circle cx="271.00" cy="347.20" r="1.65" fill="none" stroke="#6170bf" stroke-width="0.7"/>
<circle cx="276.40" cy="350.90" r="1.65" fill="none" stroke="#6170bf" stroke-width="0.7"/>
<circle cx="280.40" cy="349.00" r="1.65" fill="none" stroke="#6170bf" stroke-width="0.7"/>
<circle cx="284.60" cy="349.00" r="1.65" fill="none" stroke="#6170bf" stroke-width="0.7"/>
<circle cx="288.90" cy="347.60" r="1.65" fill="none" stroke="#6170bf" stroke-width="0.7"/>
<circle cx="299.40" cy="351.90" r="1.65" fill="none" stroke="#6170bf" stroke-width="0.7"/>
<circle cx="257.10" cy="351.90" r="1.65" fill="none" stroke="#6170bf" stroke-width="0.7"/>
<circle cx="260.40" cy="353.30" r="1.65" fill="none" stroke="#6170bf" stroke-width="0.7"/>
<circle cx="263.50" cy="354.30" r="1.65" fill="none" stroke="#6170bf" stroke-width="0.7"/>
<circle cx="269.20" cy="353.80" r="1.65" fill="none" stroke="#6170bf" stroke-width="0.7"/>
<circle cx="273.50" cy="354.30" r="1.65" fill="none" stroke="#6170bf" stroke-width="0.7"/>
<circle cx="280.90" cy="354.30" r="1.65" fill="none" stroke="#6170bf" stroke-width="0.7"/>
<circle cx="283.50" cy="355.50" r="1.65" fill="none" stroke="#6170bf" stroke-width="0.7"/>
<circle cx="289.20" cy="354.30" r="1.65" fill="none" stroke="#6170bf" stroke-width="0.7"/>
<circle cx="265.70" cy="354.30" r="1.65" fill="none" stroke="#6170bf" stroke-width="0.7"/>
<circle cx="276.40" cy="351.10" r="1.65" fill="none" stroke="#6170bf" stroke-width="0.7"/>
<circle cx="261.40" cy="359.30" r="1.65" fill="none" stroke="#6170bf" stroke-width="0.7"/>
<circle cx="266.40" cy="359.30" r="1.65" fill="none" stroke="#6170bf" stroke-width="0.7"/>
<circle cx="270.00" cy="357.50" r="1.65" fill="none" stroke="#6170bf" stroke-width="0.7"/>
<circle cx="274.90" cy="359.70" r="1.65" fill="none" stroke="#6170bf" stroke-width="0.7"/>
<circle cx="276.40" cy="357.80" r="1.65" fill="none" stroke="#6170bf" stroke-width="0.7"/>
<circle cx="285.60" cy="359.70" r="1.65" fill="none" stroke="#6170bf" stroke-width="0.7"/>
<circle cx="289.90" cy="362.50" r="1.65" fill="none" stroke="#6170bf" stroke-width="0.7"/>
<circle cx="302.70" cy="364.00" r="1.65" fill="none" stroke="#6170bf" stroke-width="0.7"/>
<circle cx="270.70" cy="362.50" r="1.65" fill="none" stroke="#6170bf" stroke-width="0.7"/>
<circle cx="274.20" cy="363.20" r="1.65" fill="none" stroke="#6170bf" stroke-width="0.7"/>
<circle cx="278.50" cy="363.20" r="1.65" fill="none" stroke="#6170bf" stroke-width="0.7"/>
<circle cx="286.30" cy="363.20" r="1.65" fill="none" stroke="#6170bf" stroke-width="0.7"/>
<circle cx="260.70" cy="364.40" r="1.65" fill="none" stroke="#6170bf" stroke-width="0.7"/>
<circle cx="269.20" cy="365.00" r="1.65" fill="none" stroke="#6170bf" stroke-width="0.7"/>
<circle cx="276.40" cy="365.80" r="1.65" fill="none" stroke="#6170bf" stroke-width="0.7"/>
<circle cx="279.90" cy="367.50" r="1.65" fill="none" stroke="#6170bf" stroke-width="0.7"/>
<circle cx="284.20" cy="366.80" r="1.65" fill="none" stroke="#6170bf" stroke-width="0.7"/>
<circle cx="288.50" cy="366.80" r="1.65" fill="none" stroke="#6170bf" stroke-width="0.7"/>
<circle cx="292.70" cy="366.10" r="1.65" fill="none" stroke="#6170bf" stroke-width="0.7"/>
<circle cx="297.70" cy="366.80" r="1.65" fill="none" stroke="#6170bf" stroke-width="0.7"/>
<circle cx="300.60" cy="368.20" r="1.65" fill="none" stroke="#6170bf" stroke-width="0.7"/>
<circle cx="259.30" cy="370.40" r="1.65" fill="none" stroke="#6170bf" stroke-width="0.7"/>
<circle cx="265.70" cy="372.50" r="1.65" fill="none" stroke="#6170bf" stroke-width="0.7"/>
<circle cx="270.00" cy="373.20" r="1.65" fill="none" stroke="#6170bf" stroke-width="0.7"/>
<circle cx="276.40" cy="372.50" r="1.65" fill="none" stroke="#6170bf" stroke-width="0.7"/>
<circle cx="282.80" cy="371.80" r="1.65" fill="none" stroke="#6170bf" stroke-width="0.7"/>
<circle cx="289.20" cy="372.50" r="1.65" fill="none" stroke="#6170bf" stroke-width="0.7"/>
<circle cx="294.90" cy="373.90" r="1.65" fill="none" stroke="#6170bf" stroke-width="0.7"/>
<circle cx="267.10" cy="376.80" r="1.65" fill="none" stroke="#6170bf" stroke-width="0.7"/>
<circle cx="271.40" cy="376.10" r="1.65" fill="none" stroke="#6170bf" stroke-width="0.7"/>
<circle cx="276.40" cy="376.80" r="1.65" fill="none" stroke="#6170bf" stroke-width="0.7"/>
<circle cx="279.90" cy="374.60" r="1.65" fill="none" stroke="#6170bf" stroke-width="0.7"/>
<circle cx="284.90" cy="376.10" r="1.65" fill="none" stroke="#6170bf" stroke-width="0.7"/>
<circle cx="290.60" cy="376.80" r="1.65" fill="none" stroke="#6170bf" stroke-width="0.7"/>
<circle cx="263.50" cy="379.60" r="1.65" fill="none" stroke="#6170bf" stroke-width="0.7"/>
<circle cx="269.20" cy="378.90" r="1.65" fill="none" stroke="#6170bf" stroke-width="0.7"/>
<circle cx="273.50" cy="380.30" r="1.65" fill="none" stroke="#6170bf" stroke-width="0.7"/>
<circle cx="277.80" cy="379.60" r="1.65" fill="none" stroke="#6170bf" stroke-width="0.7"/>
<circle cx="288.50" cy="379.60" r="1.65" fill="none" stroke="#6170bf" stroke-width="0.7"/>
<circle cx="292.70" cy="378.90" r="1.65" fill="none" stroke="#6170bf" stroke-width="0.7"/>
<circle cx="262.80" cy="383.20" r="1.65" fill="none" stroke="#6170bf" stroke-width="0.7"/>
<circle cx="269.20" cy="383.20" r="1.65" fill="none" stroke="#6170bf" stroke-width="0.7"/>
<circle cx="279.90" cy="383.20" r="1.65" fill="none" stroke="#6170bf" stroke-width="0.7"/>
<circle cx="283.50" cy="383.90" r="1.65" fill="none" stroke="#6170bf" stroke-width="0.7"/>
<circle cx="289.20" cy="383.20" r="1.65" fill="none" stroke="#6170bf" stroke-width="0.7"/>
<circle cx="259.30" cy="386.00" r="1.65" fill="none" stroke="#6170bf" stroke-width="0.7"/>
<circle cx="265.70" cy="386.30" r="1.65" fill="none" stroke="#6170bf" stroke-width="0.7"/>
<circle cx="270.00" cy="387.20" r="1.65" fill="none" stroke="#6170bf" stroke-width="0.7"/>
<circle cx="274.20" cy="386.30" r="1.65" fill="none" stroke="#6170bf" stroke-width="0.7"/>
<circle cx="282.10" cy="386.80" r="1.65" fill="none" stroke="#6170bf" stroke-width="0.7"/>
<circle cx="285.60" cy="387.20" r="1.65" fill="none" stroke="#6170bf" stroke-width="0.7"/>
<circle cx="303.40" cy="379.60" r="1.65" fill="none" stroke="#6170bf" stroke-width="0.7"/>
<circle cx="260.00" cy="390.00" r="1.65" fill="none" stroke="#6170bf" stroke-width="0.7"/>
<circle cx="274.20" cy="389.30" r="1.65" fill="none" stroke="#6170bf" stroke-width="0.7"/>
<circle cx="294.20" cy="390.40" r="1.65" fill="none" stroke="#6170bf" stroke-width="0.7"/>
<circle cx="300.60" cy="395.70" r="1.65" fill="none" stroke="#6170bf" stroke-width="0.7"/>
<circle cx="286.30" cy="399.20" r="1.65" fill="none" stroke="#6170bf" stroke-width="0.7"/>
<circle cx="272.80" cy="402.80" r="1.65" fill="none" stroke="#6170bf" stroke-width="0.7"/>
<circle cx="316.40" cy="366.10" r="1.65" fill="none" stroke="#6170bf" stroke-width="0.7"/>
<circle cx="331.60" cy="365.80" r="1.65" fill="none" stroke="#6170bf" stroke-width="0.7"/>
<circle cx="341.60" cy="367.00" r="1.65" fill="none" stroke="#6170bf" stroke-width="0.7"/>
<circle cx="311.70" cy="376.10" r="1.65" fill="none" stroke="#6170bf" stroke-width="0.7"/>
<circle cx="329.50" cy="377.20" r="1.65" fill="none" stroke="#6170bf" stroke-width="0.7"/>
<circle cx="303.80" cy="379.40" r="1.65" fill="none" stroke="#6170bf" stroke-width="0.7"/>
<circle cx="332.60" cy="380.40" r="1.65" fill="none" stroke="#6170bf" stroke-width="0.7"/>
<circle cx="313.10" cy="382.60" r="1.65" fill="none" stroke="#6170bf" stroke-width="0.7"/>
<circle cx="305.30" cy="385.50" r="1.65" fill="none" stroke="#6170bf" stroke-width="0.7"/>
<circle cx="334.50" cy="390.70" r="1.65" fill="none" stroke="#6170bf" stroke-width="0.7"/>
<line x1="215.80" y1="362.70" x2="341.60" y2="377.20" stroke="#34429a" stroke-width="1.3"/>
<path d="M58.9,17.2 V7.6 H129.3 V18.5" stroke="#222" stroke-width="1.2" fill="none"/>
<path d="M87.30,0.55 L87.30,3.85 M85.87,1.38 L88.73,3.02 M85.87,3.02 L88.73,1.38 " stroke="#444" stroke-width="0.9" fill="none"/>
<path d="M94.50,0.55 L94.50,3.85 M93.07,1.38 L95.93,3.02 M93.07,3.02 L95.93,1.38 " stroke="#444" stroke-width="0.9" fill="none"/>
<path d="M101.50,0.55 L101.50,3.85 M100.07,1.38 L102.93,3.02 M100.07,3.02 L102.93,1.38 " stroke="#444" stroke-width="0.9" fill="none"/>
</svg></body></html>
